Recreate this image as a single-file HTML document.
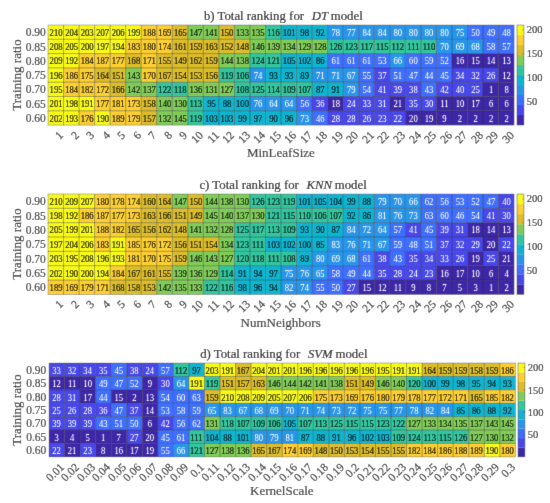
<!DOCTYPE html>
<html><head><meta charset="utf-8"><title>Total ranking heatmaps</title>
<style>
html,body{margin:0;padding:0;background:#fff;}
body{width:550px;height:503px;position:relative;overflow:hidden;-webkit-text-stroke:0.2px currentColor;font-family:"Liberation Serif","Times New Roman",serif;color:#262626;}
.a{position:absolute;white-space:nowrap;}
.hm{position:absolute;}
.c{position:absolute;text-align:center;font-size:8.6px;transform:scaleY(1.1);}
.w{color:#fff;-webkit-text-stroke:0;}
.k{color:#111;}
.yt{position:absolute;font-size:11.5px;color:#383838;text-align:right;width:30px;}
.xt{position:absolute;font-size:11.5px;color:#383838;text-align:right;transform-origin:100% 50%;transform:rotate(-45deg);width:40px;}
.cbt{position:absolute;font-size:10.5px;color:#383838;}
.lab{position:absolute;font-size:13.0px;color:#383838;text-align:center;}
.ttl{position:absolute;font-size:12.8px;color:#262626;text-align:center;}
.ttl i{font-style:italic;}
.cb{position:absolute;box-sizing:border-box;border:0.8px solid rgba(40,40,40,0.5);}
.gl{position:absolute;background:rgba(40,40,40,0.25);}
#wrap{position:absolute;left:0;top:0;width:550px;height:503px;background:#fff;filter:url(#bl);}
</style></head><body><svg width="0" height="0" style="position:absolute"><filter id="bl" x="0" y="0" width="550" height="503" filterUnits="userSpaceOnUse" primitiveUnits="userSpaceOnUse"><feConvolveMatrix order="3" kernelMatrix="0.0052 0.0619 0.0052 0.0619 0.7314 0.0619 0.0052 0.0619 0.0052" edgeMode="duplicate" preserveAlpha="true"/></filter></svg><div id="wrap">

<div class="ttl" style="left:133.3px;top:9.1px;width:300px;line-height:14px;">b) Total ranking for <i style="margin-left:4.4px">DT</i><span style="margin-left:-0.5px"> model</span></div>
<svg class="a" style="left:48.3px;top:24.6px;overflow:visible" width="466.1" height="100.1" viewBox="0 0 466.1 100.1"><rect x="0" y="0" width="15.56" height="14.32" fill="#f9fb15"/><rect x="15.54" y="0" width="15.56" height="14.32" fill="#f9fb15"/><rect x="31.07" y="0" width="15.56" height="14.32" fill="#f9fb15"/><rect x="46.61" y="0" width="15.56" height="14.32" fill="#f9fb15"/><rect x="62.15" y="0" width="15.56" height="14.32" fill="#f9fb15"/><rect x="77.68" y="0" width="15.56" height="14.32" fill="#f9fb15"/><rect x="93.22" y="0" width="15.56" height="14.32" fill="#fccf30"/><rect x="108.76" y="0" width="15.56" height="14.32" fill="#fccf30"/><rect x="124.29" y="0" width="15.56" height="14.32" fill="#dcbd29"/><rect x="139.83" y="0" width="15.56" height="14.32" fill="#81cc59"/><rect x="155.37" y="0" width="15.56" height="14.32" fill="#81cc59"/><rect x="170.9" y="0" width="15.56" height="14.32" fill="#dcbd29"/><rect x="186.44" y="0" width="15.56" height="14.32" fill="#81cc59"/><rect x="201.98" y="0" width="15.56" height="14.32" fill="#81cc59"/><rect x="217.51" y="0" width="15.56" height="14.32" fill="#31c69f"/><rect x="233.05" y="0" width="15.56" height="14.32" fill="#08b5d0"/><rect x="248.59" y="0" width="15.56" height="14.32" fill="#08b5d0"/><rect x="264.12" y="0" width="15.56" height="14.32" fill="#08b5d0"/><rect x="279.66" y="0" width="15.56" height="14.32" fill="#2796eb"/><rect x="295.2" y="0" width="15.56" height="14.32" fill="#2796eb"/><rect x="310.73" y="0" width="15.56" height="14.32" fill="#2796eb"/><rect x="326.27" y="0" width="15.56" height="14.32" fill="#2796eb"/><rect x="341.81" y="0" width="15.56" height="14.32" fill="#2796eb"/><rect x="357.34" y="0" width="15.56" height="14.32" fill="#2796eb"/><rect x="372.88" y="0" width="15.56" height="14.32" fill="#2796eb"/><rect x="388.42" y="0" width="15.56" height="14.32" fill="#2796eb"/><rect x="403.95" y="0" width="15.56" height="14.32" fill="#2796eb"/><rect x="419.49" y="0" width="15.56" height="14.32" fill="#3e6fff"/><rect x="435.03" y="0" width="15.56" height="14.32" fill="#3e6fff"/><rect x="450.56" y="0" width="15.56" height="14.32" fill="#3e6fff"/><rect x="0" y="14.3" width="15.56" height="14.32" fill="#f9fb15"/><rect x="15.54" y="14.3" width="15.56" height="14.32" fill="#f9fb15"/><rect x="31.07" y="14.3" width="15.56" height="14.32" fill="#f9fb15"/><rect x="46.61" y="14.3" width="15.56" height="14.32" fill="#f9fb15"/><rect x="62.15" y="14.3" width="15.56" height="14.32" fill="#f9fb15"/><rect x="77.68" y="14.3" width="15.56" height="14.32" fill="#fccf30"/><rect x="93.22" y="14.3" width="15.56" height="14.32" fill="#fccf30"/><rect x="108.76" y="14.3" width="15.56" height="14.32" fill="#fccf30"/><rect x="124.29" y="14.3" width="15.56" height="14.32" fill="#dcbd29"/><rect x="139.83" y="14.3" width="15.56" height="14.32" fill="#dcbd29"/><rect x="155.37" y="14.3" width="15.56" height="14.32" fill="#dcbd29"/><rect x="170.9" y="14.3" width="15.56" height="14.32" fill="#dcbd29"/><rect x="186.44" y="14.3" width="15.56" height="14.32" fill="#dcbd29"/><rect x="201.98" y="14.3" width="15.56" height="14.32" fill="#81cc59"/><rect x="217.51" y="14.3" width="15.56" height="14.32" fill="#81cc59"/><rect x="233.05" y="14.3" width="15.56" height="14.32" fill="#81cc59"/><rect x="248.59" y="14.3" width="15.56" height="14.32" fill="#81cc59"/><rect x="264.12" y="14.3" width="15.56" height="14.32" fill="#81cc59"/><rect x="279.66" y="14.3" width="15.56" height="14.32" fill="#31c69f"/><rect x="295.2" y="14.3" width="15.56" height="14.32" fill="#31c69f"/><rect x="310.73" y="14.3" width="15.56" height="14.32" fill="#31c69f"/><rect x="326.27" y="14.3" width="15.56" height="14.32" fill="#31c69f"/><rect x="341.81" y="14.3" width="15.56" height="14.32" fill="#31c69f"/><rect x="357.34" y="14.3" width="15.56" height="14.32" fill="#31c69f"/><rect x="372.88" y="14.3" width="15.56" height="14.32" fill="#31c69f"/><rect x="388.42" y="14.3" width="15.56" height="14.32" fill="#2796eb"/><rect x="403.95" y="14.3" width="15.56" height="14.32" fill="#2796eb"/><rect x="419.49" y="14.3" width="15.56" height="14.32" fill="#2796eb"/><rect x="435.03" y="14.3" width="15.56" height="14.32" fill="#3e6fff"/><rect x="450.56" y="14.3" width="15.56" height="14.32" fill="#3e6fff"/><rect x="0" y="28.6" width="15.56" height="14.32" fill="#f9fb15"/><rect x="15.54" y="28.6" width="15.56" height="14.32" fill="#f9fb15"/><rect x="31.07" y="28.6" width="15.56" height="14.32" fill="#fccf30"/><rect x="46.61" y="28.6" width="15.56" height="14.32" fill="#fccf30"/><rect x="62.15" y="28.6" width="15.56" height="14.32" fill="#fccf30"/><rect x="77.68" y="28.6" width="15.56" height="14.32" fill="#dcbd29"/><rect x="93.22" y="28.6" width="15.56" height="14.32" fill="#fccf30"/><rect x="108.76" y="28.6" width="15.56" height="14.32" fill="#dcbd29"/><rect x="124.29" y="28.6" width="15.56" height="14.32" fill="#dcbd29"/><rect x="139.83" y="28.6" width="15.56" height="14.32" fill="#dcbd29"/><rect x="155.37" y="28.6" width="15.56" height="14.32" fill="#dcbd29"/><rect x="170.9" y="28.6" width="15.56" height="14.32" fill="#81cc59"/><rect x="186.44" y="28.6" width="15.56" height="14.32" fill="#81cc59"/><rect x="201.98" y="28.6" width="15.56" height="14.32" fill="#31c69f"/><rect x="217.51" y="28.6" width="15.56" height="14.32" fill="#31c69f"/><rect x="233.05" y="28.6" width="15.56" height="14.32" fill="#08b5d0"/><rect x="248.59" y="28.6" width="15.56" height="14.32" fill="#08b5d0"/><rect x="264.12" y="28.6" width="15.56" height="14.32" fill="#08b5d0"/><rect x="279.66" y="28.6" width="15.56" height="14.32" fill="#3e6fff"/><rect x="295.2" y="28.6" width="15.56" height="14.32" fill="#3e6fff"/><rect x="310.73" y="28.6" width="15.56" height="14.32" fill="#3e6fff"/><rect x="326.27" y="28.6" width="15.56" height="14.32" fill="#3e6fff"/><rect x="341.81" y="28.6" width="15.56" height="14.32" fill="#2796eb"/><rect x="357.34" y="28.6" width="15.56" height="14.32" fill="#3e6fff"/><rect x="372.88" y="28.6" width="15.56" height="14.32" fill="#3e6fff"/><rect x="388.42" y="28.6" width="15.56" height="14.32" fill="#3e6fff"/><rect x="403.95" y="28.6" width="15.56" height="14.32" fill="#3e26a8"/><rect x="419.49" y="28.6" width="15.56" height="14.32" fill="#3e26a8"/><rect x="435.03" y="28.6" width="15.56" height="14.32" fill="#3e26a8"/><rect x="450.56" y="28.6" width="15.56" height="14.32" fill="#3e26a8"/><rect x="0" y="42.9" width="15.56" height="14.32" fill="#f9fb15"/><rect x="15.54" y="42.9" width="15.56" height="14.32" fill="#fccf30"/><rect x="31.07" y="42.9" width="15.56" height="14.32" fill="#fccf30"/><rect x="46.61" y="42.9" width="15.56" height="14.32" fill="#dcbd29"/><rect x="62.15" y="42.9" width="15.56" height="14.32" fill="#dcbd29"/><rect x="77.68" y="42.9" width="15.56" height="14.32" fill="#81cc59"/><rect x="93.22" y="42.9" width="15.56" height="14.32" fill="#fccf30"/><rect x="108.76" y="42.9" width="15.56" height="14.32" fill="#dcbd29"/><rect x="124.29" y="42.9" width="15.56" height="14.32" fill="#dcbd29"/><rect x="139.83" y="42.9" width="15.56" height="14.32" fill="#dcbd29"/><rect x="155.37" y="42.9" width="15.56" height="14.32" fill="#dcbd29"/><rect x="170.9" y="42.9" width="15.56" height="14.32" fill="#31c69f"/><rect x="186.44" y="42.9" width="15.56" height="14.32" fill="#31c69f"/><rect x="201.98" y="42.9" width="15.56" height="14.32" fill="#2796eb"/><rect x="217.51" y="42.9" width="15.56" height="14.32" fill="#08b5d0"/><rect x="233.05" y="42.9" width="15.56" height="14.32" fill="#08b5d0"/><rect x="248.59" y="42.9" width="15.56" height="14.32" fill="#08b5d0"/><rect x="264.12" y="42.9" width="15.56" height="14.32" fill="#2796eb"/><rect x="279.66" y="42.9" width="15.56" height="14.32" fill="#2796eb"/><rect x="295.2" y="42.9" width="15.56" height="14.32" fill="#2796eb"/><rect x="310.73" y="42.9" width="15.56" height="14.32" fill="#3e6fff"/><rect x="326.27" y="42.9" width="15.56" height="14.32" fill="#4747eb"/><rect x="341.81" y="42.9" width="15.56" height="14.32" fill="#3e6fff"/><rect x="357.34" y="42.9" width="15.56" height="14.32" fill="#3e6fff"/><rect x="372.88" y="42.9" width="15.56" height="14.32" fill="#3e6fff"/><rect x="388.42" y="42.9" width="15.56" height="14.32" fill="#3e6fff"/><rect x="403.95" y="42.9" width="15.56" height="14.32" fill="#4747eb"/><rect x="419.49" y="42.9" width="15.56" height="14.32" fill="#4747eb"/><rect x="435.03" y="42.9" width="15.56" height="14.32" fill="#4747eb"/><rect x="450.56" y="42.9" width="15.56" height="14.32" fill="#3e26a8"/><rect x="0" y="57.2" width="15.56" height="14.32" fill="#f9fb15"/><rect x="15.54" y="57.2" width="15.56" height="14.32" fill="#fccf30"/><rect x="31.07" y="57.2" width="15.56" height="14.32" fill="#fccf30"/><rect x="46.61" y="57.2" width="15.56" height="14.32" fill="#fccf30"/><rect x="62.15" y="57.2" width="15.56" height="14.32" fill="#dcbd29"/><rect x="77.68" y="57.2" width="15.56" height="14.32" fill="#81cc59"/><rect x="93.22" y="57.2" width="15.56" height="14.32" fill="#81cc59"/><rect x="108.76" y="57.2" width="15.56" height="14.32" fill="#31c69f"/><rect x="124.29" y="57.2" width="15.56" height="14.32" fill="#31c69f"/><rect x="139.83" y="57.2" width="15.56" height="14.32" fill="#81cc59"/><rect x="155.37" y="57.2" width="15.56" height="14.32" fill="#81cc59"/><rect x="170.9" y="57.2" width="15.56" height="14.32" fill="#81cc59"/><rect x="186.44" y="57.2" width="15.56" height="14.32" fill="#31c69f"/><rect x="201.98" y="57.2" width="15.56" height="14.32" fill="#31c69f"/><rect x="217.51" y="57.2" width="15.56" height="14.32" fill="#31c69f"/><rect x="233.05" y="57.2" width="15.56" height="14.32" fill="#31c69f"/><rect x="248.59" y="57.2" width="15.56" height="14.32" fill="#31c69f"/><rect x="264.12" y="57.2" width="15.56" height="14.32" fill="#08b5d0"/><rect x="279.66" y="57.2" width="15.56" height="14.32" fill="#08b5d0"/><rect x="295.2" y="57.2" width="15.56" height="14.32" fill="#2796eb"/><rect x="310.73" y="57.2" width="15.56" height="14.32" fill="#3e6fff"/><rect x="326.27" y="57.2" width="15.56" height="14.32" fill="#4747eb"/><rect x="341.81" y="57.2" width="15.56" height="14.32" fill="#4747eb"/><rect x="357.34" y="57.2" width="15.56" height="14.32" fill="#4747eb"/><rect x="372.88" y="57.2" width="15.56" height="14.32" fill="#3e6fff"/><rect x="388.42" y="57.2" width="15.56" height="14.32" fill="#4747eb"/><rect x="403.95" y="57.2" width="15.56" height="14.32" fill="#4747eb"/><rect x="419.49" y="57.2" width="15.56" height="14.32" fill="#4747eb"/><rect x="435.03" y="57.2" width="15.56" height="14.32" fill="#3e26a8"/><rect x="450.56" y="57.2" width="15.56" height="14.32" fill="#3e26a8"/><rect x="0" y="71.5" width="15.56" height="14.32" fill="#f9fb15"/><rect x="15.54" y="71.5" width="15.56" height="14.32" fill="#f9fb15"/><rect x="31.07" y="71.5" width="15.56" height="14.32" fill="#f9fb15"/><rect x="46.61" y="71.5" width="15.56" height="14.32" fill="#fccf30"/><rect x="62.15" y="71.5" width="15.56" height="14.32" fill="#fccf30"/><rect x="77.68" y="71.5" width="15.56" height="14.32" fill="#fccf30"/><rect x="93.22" y="71.5" width="15.56" height="14.32" fill="#dcbd29"/><rect x="108.76" y="71.5" width="15.56" height="14.32" fill="#81cc59"/><rect x="124.29" y="71.5" width="15.56" height="14.32" fill="#81cc59"/><rect x="139.83" y="71.5" width="15.56" height="14.32" fill="#31c69f"/><rect x="155.37" y="71.5" width="15.56" height="14.32" fill="#08b5d0"/><rect x="170.9" y="71.5" width="15.56" height="14.32" fill="#08b5d0"/><rect x="186.44" y="71.5" width="15.56" height="14.32" fill="#08b5d0"/><rect x="201.98" y="71.5" width="15.56" height="14.32" fill="#2796eb"/><rect x="217.51" y="71.5" width="15.56" height="14.32" fill="#2796eb"/><rect x="233.05" y="71.5" width="15.56" height="14.32" fill="#2796eb"/><rect x="248.59" y="71.5" width="15.56" height="14.32" fill="#3e6fff"/><rect x="264.12" y="71.5" width="15.56" height="14.32" fill="#4747eb"/><rect x="279.66" y="71.5" width="15.56" height="14.32" fill="#3e26a8"/><rect x="295.2" y="71.5" width="15.56" height="14.32" fill="#4747eb"/><rect x="310.73" y="71.5" width="15.56" height="14.32" fill="#4747eb"/><rect x="326.27" y="71.5" width="15.56" height="14.32" fill="#4747eb"/><rect x="341.81" y="71.5" width="15.56" height="14.32" fill="#3e26a8"/><rect x="357.34" y="71.5" width="15.56" height="14.32" fill="#4747eb"/><rect x="372.88" y="71.5" width="15.56" height="14.32" fill="#4747eb"/><rect x="388.42" y="71.5" width="15.56" height="14.32" fill="#3e26a8"/><rect x="403.95" y="71.5" width="15.56" height="14.32" fill="#3e26a8"/><rect x="419.49" y="71.5" width="15.56" height="14.32" fill="#3e26a8"/><rect x="435.03" y="71.5" width="15.56" height="14.32" fill="#3e26a8"/><rect x="450.56" y="71.5" width="15.56" height="14.32" fill="#3e26a8"/><rect x="0" y="85.8" width="15.56" height="14.32" fill="#f9fb15"/><rect x="15.54" y="85.8" width="15.56" height="14.32" fill="#f9fb15"/><rect x="31.07" y="85.8" width="15.56" height="14.32" fill="#fccf30"/><rect x="46.61" y="85.8" width="15.56" height="14.32" fill="#f9fb15"/><rect x="62.15" y="85.8" width="15.56" height="14.32" fill="#fccf30"/><rect x="77.68" y="85.8" width="15.56" height="14.32" fill="#fccf30"/><rect x="93.22" y="85.8" width="15.56" height="14.32" fill="#dcbd29"/><rect x="108.76" y="85.8" width="15.56" height="14.32" fill="#81cc59"/><rect x="124.29" y="85.8" width="15.56" height="14.32" fill="#81cc59"/><rect x="139.83" y="85.8" width="15.56" height="14.32" fill="#31c69f"/><rect x="155.37" y="85.8" width="15.56" height="14.32" fill="#08b5d0"/><rect x="170.9" y="85.8" width="15.56" height="14.32" fill="#08b5d0"/><rect x="186.44" y="85.8" width="15.56" height="14.32" fill="#08b5d0"/><rect x="201.98" y="85.8" width="15.56" height="14.32" fill="#08b5d0"/><rect x="217.51" y="85.8" width="15.56" height="14.32" fill="#08b5d0"/><rect x="233.05" y="85.8" width="15.56" height="14.32" fill="#08b5d0"/><rect x="248.59" y="85.8" width="15.56" height="14.32" fill="#2796eb"/><rect x="264.12" y="85.8" width="15.56" height="14.32" fill="#3e6fff"/><rect x="279.66" y="85.8" width="15.56" height="14.32" fill="#4747eb"/><rect x="295.2" y="85.8" width="15.56" height="14.32" fill="#4747eb"/><rect x="310.73" y="85.8" width="15.56" height="14.32" fill="#4747eb"/><rect x="326.27" y="85.8" width="15.56" height="14.32" fill="#4747eb"/><rect x="341.81" y="85.8" width="15.56" height="14.32" fill="#4747eb"/><rect x="357.34" y="85.8" width="15.56" height="14.32" fill="#3e26a8"/><rect x="372.88" y="85.8" width="15.56" height="14.32" fill="#3e26a8"/><rect x="388.42" y="85.8" width="15.56" height="14.32" fill="#3e26a8"/><rect x="403.95" y="85.8" width="15.56" height="14.32" fill="#3e26a8"/><rect x="419.49" y="85.8" width="15.56" height="14.32" fill="#3e26a8"/><rect x="435.03" y="85.8" width="15.56" height="14.32" fill="#3e26a8"/><rect x="450.56" y="85.8" width="15.56" height="14.32" fill="#3e26a8"/><path d="M15.54 0V100.1M31.07 0V100.1M46.61 0V100.1M62.15 0V100.1M77.68 0V100.1M93.22 0V100.1M108.76 0V100.1M124.29 0V100.1M139.83 0V100.1M155.37 0V100.1M170.9 0V100.1M186.44 0V100.1M201.98 0V100.1M217.51 0V100.1M233.05 0V100.1M248.59 0V100.1M264.12 0V100.1M279.66 0V100.1M295.2 0V100.1M310.73 0V100.1M326.27 0V100.1M341.81 0V100.1M357.34 0V100.1M372.88 0V100.1M388.42 0V100.1M403.95 0V100.1M419.49 0V100.1M435.03 0V100.1M450.56 0V100.1M0 14.3H466.1M0 28.6H466.1M0 42.9H466.1M0 57.2H466.1M0 71.5H466.1M0 85.8H466.1" stroke="rgba(40,40,40,0.5)" stroke-width="0.8" fill="none"/><rect x="0" y="0" width="466.1" height="100.1" stroke="rgba(40,40,40,0.45)" stroke-width="0.7" fill="none"/></svg>
<div class="hm" style="left:48.3px;top:24.6px;width:466.1px;height:100.1px;">
<div class="c k" style="left:0px;top:1.2px;width:15.54px;line-height:15.3px">210</div>
<div class="c k" style="left:15.54px;top:1.2px;width:15.54px;line-height:15.3px">204</div>
<div class="c k" style="left:31.07px;top:1.2px;width:15.54px;line-height:15.3px">203</div>
<div class="c k" style="left:46.61px;top:1.2px;width:15.54px;line-height:15.3px">207</div>
<div class="c k" style="left:62.15px;top:1.2px;width:15.54px;line-height:15.3px">206</div>
<div class="c k" style="left:77.68px;top:1.2px;width:15.54px;line-height:15.3px">199</div>
<div class="c k" style="left:93.22px;top:1.2px;width:15.54px;line-height:15.3px">188</div>
<div class="c k" style="left:108.76px;top:1.2px;width:15.54px;line-height:15.3px">169</div>
<div class="c k" style="left:124.29px;top:1.2px;width:15.54px;line-height:15.3px">165</div>
<div class="c k" style="left:139.83px;top:1.2px;width:15.54px;line-height:15.3px">147</div>
<div class="c k" style="left:155.37px;top:1.2px;width:15.54px;line-height:15.3px">141</div>
<div class="c k" style="left:170.9px;top:1.2px;width:15.54px;line-height:15.3px">150</div>
<div class="c k" style="left:186.44px;top:1.2px;width:15.54px;line-height:15.3px">133</div>
<div class="c k" style="left:201.98px;top:1.2px;width:15.54px;line-height:15.3px">135</div>
<div class="c k" style="left:217.51px;top:1.2px;width:15.54px;line-height:15.3px">116</div>
<div class="c k" style="left:233.05px;top:1.2px;width:15.54px;line-height:15.3px">101</div>
<div class="c k" style="left:248.59px;top:1.2px;width:15.54px;line-height:15.3px">98</div>
<div class="c k" style="left:264.12px;top:1.2px;width:15.54px;line-height:15.3px">92</div>
<div class="c w" style="left:279.66px;top:1.2px;width:15.54px;line-height:15.3px">78</div>
<div class="c w" style="left:295.2px;top:1.2px;width:15.54px;line-height:15.3px">77</div>
<div class="c w" style="left:310.73px;top:1.2px;width:15.54px;line-height:15.3px">84</div>
<div class="c w" style="left:326.27px;top:1.2px;width:15.54px;line-height:15.3px">84</div>
<div class="c w" style="left:341.81px;top:1.2px;width:15.54px;line-height:15.3px">80</div>
<div class="c w" style="left:357.34px;top:1.2px;width:15.54px;line-height:15.3px">80</div>
<div class="c w" style="left:372.88px;top:1.2px;width:15.54px;line-height:15.3px">80</div>
<div class="c w" style="left:388.42px;top:1.2px;width:15.54px;line-height:15.3px">80</div>
<div class="c w" style="left:403.95px;top:1.2px;width:15.54px;line-height:15.3px">75</div>
<div class="c w" style="left:419.49px;top:1.2px;width:15.54px;line-height:15.3px">50</div>
<div class="c w" style="left:435.03px;top:1.2px;width:15.54px;line-height:15.3px">49</div>
<div class="c w" style="left:450.56px;top:1.2px;width:15.54px;line-height:15.3px">48</div>
<div class="c k" style="left:0px;top:15.5px;width:15.54px;line-height:15.3px">208</div>
<div class="c k" style="left:15.54px;top:15.5px;width:15.54px;line-height:15.3px">205</div>
<div class="c k" style="left:31.07px;top:15.5px;width:15.54px;line-height:15.3px">200</div>
<div class="c k" style="left:46.61px;top:15.5px;width:15.54px;line-height:15.3px">197</div>
<div class="c k" style="left:62.15px;top:15.5px;width:15.54px;line-height:15.3px">194</div>
<div class="c k" style="left:77.68px;top:15.5px;width:15.54px;line-height:15.3px">183</div>
<div class="c k" style="left:93.22px;top:15.5px;width:15.54px;line-height:15.3px">180</div>
<div class="c k" style="left:108.76px;top:15.5px;width:15.54px;line-height:15.3px">174</div>
<div class="c k" style="left:124.29px;top:15.5px;width:15.54px;line-height:15.3px">161</div>
<div class="c k" style="left:139.83px;top:15.5px;width:15.54px;line-height:15.3px">159</div>
<div class="c k" style="left:155.37px;top:15.5px;width:15.54px;line-height:15.3px">163</div>
<div class="c k" style="left:170.9px;top:15.5px;width:15.54px;line-height:15.3px">152</div>
<div class="c k" style="left:186.44px;top:15.5px;width:15.54px;line-height:15.3px">148</div>
<div class="c k" style="left:201.98px;top:15.5px;width:15.54px;line-height:15.3px">146</div>
<div class="c k" style="left:217.51px;top:15.5px;width:15.54px;line-height:15.3px">139</div>
<div class="c k" style="left:233.05px;top:15.5px;width:15.54px;line-height:15.3px">134</div>
<div class="c k" style="left:248.59px;top:15.5px;width:15.54px;line-height:15.3px">129</div>
<div class="c k" style="left:264.12px;top:15.5px;width:15.54px;line-height:15.3px">128</div>
<div class="c k" style="left:279.66px;top:15.5px;width:15.54px;line-height:15.3px">126</div>
<div class="c k" style="left:295.2px;top:15.5px;width:15.54px;line-height:15.3px">123</div>
<div class="c k" style="left:310.73px;top:15.5px;width:15.54px;line-height:15.3px">117</div>
<div class="c k" style="left:326.27px;top:15.5px;width:15.54px;line-height:15.3px">115</div>
<div class="c k" style="left:341.81px;top:15.5px;width:15.54px;line-height:15.3px">112</div>
<div class="c k" style="left:357.34px;top:15.5px;width:15.54px;line-height:15.3px">111</div>
<div class="c k" style="left:372.88px;top:15.5px;width:15.54px;line-height:15.3px">110</div>
<div class="c w" style="left:388.42px;top:15.5px;width:15.54px;line-height:15.3px">70</div>
<div class="c w" style="left:403.95px;top:15.5px;width:15.54px;line-height:15.3px">69</div>
<div class="c w" style="left:419.49px;top:15.5px;width:15.54px;line-height:15.3px">68</div>
<div class="c w" style="left:435.03px;top:15.5px;width:15.54px;line-height:15.3px">58</div>
<div class="c w" style="left:450.56px;top:15.5px;width:15.54px;line-height:15.3px">57</div>
<div class="c k" style="left:0px;top:29.8px;width:15.54px;line-height:15.3px">209</div>
<div class="c k" style="left:15.54px;top:29.8px;width:15.54px;line-height:15.3px">192</div>
<div class="c k" style="left:31.07px;top:29.8px;width:15.54px;line-height:15.3px">184</div>
<div class="c k" style="left:46.61px;top:29.8px;width:15.54px;line-height:15.3px">187</div>
<div class="c k" style="left:62.15px;top:29.8px;width:15.54px;line-height:15.3px">177</div>
<div class="c k" style="left:77.68px;top:29.8px;width:15.54px;line-height:15.3px">168</div>
<div class="c k" style="left:93.22px;top:29.8px;width:15.54px;line-height:15.3px">171</div>
<div class="c k" style="left:108.76px;top:29.8px;width:15.54px;line-height:15.3px">155</div>
<div class="c k" style="left:124.29px;top:29.8px;width:15.54px;line-height:15.3px">149</div>
<div class="c k" style="left:139.83px;top:29.8px;width:15.54px;line-height:15.3px">162</div>
<div class="c k" style="left:155.37px;top:29.8px;width:15.54px;line-height:15.3px">159</div>
<div class="c k" style="left:170.9px;top:29.8px;width:15.54px;line-height:15.3px">144</div>
<div class="c k" style="left:186.44px;top:29.8px;width:15.54px;line-height:15.3px">138</div>
<div class="c k" style="left:201.98px;top:29.8px;width:15.54px;line-height:15.3px">124</div>
<div class="c k" style="left:217.51px;top:29.8px;width:15.54px;line-height:15.3px">121</div>
<div class="c k" style="left:233.05px;top:29.8px;width:15.54px;line-height:15.3px">105</div>
<div class="c k" style="left:248.59px;top:29.8px;width:15.54px;line-height:15.3px">102</div>
<div class="c k" style="left:264.12px;top:29.8px;width:15.54px;line-height:15.3px">86</div>
<div class="c w" style="left:279.66px;top:29.8px;width:15.54px;line-height:15.3px">61</div>
<div class="c w" style="left:295.2px;top:29.8px;width:15.54px;line-height:15.3px">61</div>
<div class="c w" style="left:310.73px;top:29.8px;width:15.54px;line-height:15.3px">61</div>
<div class="c w" style="left:326.27px;top:29.8px;width:15.54px;line-height:15.3px">53</div>
<div class="c w" style="left:341.81px;top:29.8px;width:15.54px;line-height:15.3px">66</div>
<div class="c w" style="left:357.34px;top:29.8px;width:15.54px;line-height:15.3px">60</div>
<div class="c w" style="left:372.88px;top:29.8px;width:15.54px;line-height:15.3px">59</div>
<div class="c w" style="left:388.42px;top:29.8px;width:15.54px;line-height:15.3px">52</div>
<div class="c w" style="left:403.95px;top:29.8px;width:15.54px;line-height:15.3px">16</div>
<div class="c w" style="left:419.49px;top:29.8px;width:15.54px;line-height:15.3px">15</div>
<div class="c w" style="left:435.03px;top:29.8px;width:15.54px;line-height:15.3px">14</div>
<div class="c w" style="left:450.56px;top:29.8px;width:15.54px;line-height:15.3px">13</div>
<div class="c k" style="left:0px;top:44.1px;width:15.54px;line-height:15.3px">196</div>
<div class="c k" style="left:15.54px;top:44.1px;width:15.54px;line-height:15.3px">186</div>
<div class="c k" style="left:31.07px;top:44.1px;width:15.54px;line-height:15.3px">175</div>
<div class="c k" style="left:46.61px;top:44.1px;width:15.54px;line-height:15.3px">164</div>
<div class="c k" style="left:62.15px;top:44.1px;width:15.54px;line-height:15.3px">151</div>
<div class="c k" style="left:77.68px;top:44.1px;width:15.54px;line-height:15.3px">143</div>
<div class="c k" style="left:93.22px;top:44.1px;width:15.54px;line-height:15.3px">170</div>
<div class="c k" style="left:108.76px;top:44.1px;width:15.54px;line-height:15.3px">167</div>
<div class="c k" style="left:124.29px;top:44.1px;width:15.54px;line-height:15.3px">154</div>
<div class="c k" style="left:139.83px;top:44.1px;width:15.54px;line-height:15.3px">153</div>
<div class="c k" style="left:155.37px;top:44.1px;width:15.54px;line-height:15.3px">156</div>
<div class="c k" style="left:170.9px;top:44.1px;width:15.54px;line-height:15.3px">119</div>
<div class="c k" style="left:186.44px;top:44.1px;width:15.54px;line-height:15.3px">106</div>
<div class="c w" style="left:201.98px;top:44.1px;width:15.54px;line-height:15.3px">74</div>
<div class="c k" style="left:217.51px;top:44.1px;width:15.54px;line-height:15.3px">93</div>
<div class="c k" style="left:233.05px;top:44.1px;width:15.54px;line-height:15.3px">93</div>
<div class="c k" style="left:248.59px;top:44.1px;width:15.54px;line-height:15.3px">89</div>
<div class="c w" style="left:264.12px;top:44.1px;width:15.54px;line-height:15.3px">71</div>
<div class="c w" style="left:279.66px;top:44.1px;width:15.54px;line-height:15.3px">71</div>
<div class="c w" style="left:295.2px;top:44.1px;width:15.54px;line-height:15.3px">67</div>
<div class="c w" style="left:310.73px;top:44.1px;width:15.54px;line-height:15.3px">55</div>
<div class="c w" style="left:326.27px;top:44.1px;width:15.54px;line-height:15.3px">37</div>
<div class="c w" style="left:341.81px;top:44.1px;width:15.54px;line-height:15.3px">51</div>
<div class="c w" style="left:357.34px;top:44.1px;width:15.54px;line-height:15.3px">47</div>
<div class="c w" style="left:372.88px;top:44.1px;width:15.54px;line-height:15.3px">44</div>
<div class="c w" style="left:388.42px;top:44.1px;width:15.54px;line-height:15.3px">45</div>
<div class="c w" style="left:403.95px;top:44.1px;width:15.54px;line-height:15.3px">34</div>
<div class="c w" style="left:419.49px;top:44.1px;width:15.54px;line-height:15.3px">32</div>
<div class="c w" style="left:435.03px;top:44.1px;width:15.54px;line-height:15.3px">26</div>
<div class="c w" style="left:450.56px;top:44.1px;width:15.54px;line-height:15.3px">12</div>
<div class="c k" style="left:0px;top:58.4px;width:15.54px;line-height:15.3px">195</div>
<div class="c k" style="left:15.54px;top:58.4px;width:15.54px;line-height:15.3px">184</div>
<div class="c k" style="left:31.07px;top:58.4px;width:15.54px;line-height:15.3px">182</div>
<div class="c k" style="left:46.61px;top:58.4px;width:15.54px;line-height:15.3px">172</div>
<div class="c k" style="left:62.15px;top:58.4px;width:15.54px;line-height:15.3px">166</div>
<div class="c k" style="left:77.68px;top:58.4px;width:15.54px;line-height:15.3px">142</div>
<div class="c k" style="left:93.22px;top:58.4px;width:15.54px;line-height:15.3px">137</div>
<div class="c k" style="left:108.76px;top:58.4px;width:15.54px;line-height:15.3px">122</div>
<div class="c k" style="left:124.29px;top:58.4px;width:15.54px;line-height:15.3px">118</div>
<div class="c k" style="left:139.83px;top:58.4px;width:15.54px;line-height:15.3px">136</div>
<div class="c k" style="left:155.37px;top:58.4px;width:15.54px;line-height:15.3px">131</div>
<div class="c k" style="left:170.9px;top:58.4px;width:15.54px;line-height:15.3px">127</div>
<div class="c k" style="left:186.44px;top:58.4px;width:15.54px;line-height:15.3px">108</div>
<div class="c k" style="left:201.98px;top:58.4px;width:15.54px;line-height:15.3px">125</div>
<div class="c k" style="left:217.51px;top:58.4px;width:15.54px;line-height:15.3px">114</div>
<div class="c k" style="left:233.05px;top:58.4px;width:15.54px;line-height:15.3px">109</div>
<div class="c k" style="left:248.59px;top:58.4px;width:15.54px;line-height:15.3px">107</div>
<div class="c k" style="left:264.12px;top:58.4px;width:15.54px;line-height:15.3px">87</div>
<div class="c k" style="left:279.66px;top:58.4px;width:15.54px;line-height:15.3px">91</div>
<div class="c w" style="left:295.2px;top:58.4px;width:15.54px;line-height:15.3px">79</div>
<div class="c w" style="left:310.73px;top:58.4px;width:15.54px;line-height:15.3px">54</div>
<div class="c w" style="left:326.27px;top:58.4px;width:15.54px;line-height:15.3px">41</div>
<div class="c w" style="left:341.81px;top:58.4px;width:15.54px;line-height:15.3px">39</div>
<div class="c w" style="left:357.34px;top:58.4px;width:15.54px;line-height:15.3px">38</div>
<div class="c w" style="left:372.88px;top:58.4px;width:15.54px;line-height:15.3px">43</div>
<div class="c w" style="left:388.42px;top:58.4px;width:15.54px;line-height:15.3px">42</div>
<div class="c w" style="left:403.95px;top:58.4px;width:15.54px;line-height:15.3px">40</div>
<div class="c w" style="left:419.49px;top:58.4px;width:15.54px;line-height:15.3px">25</div>
<div class="c w" style="left:435.03px;top:58.4px;width:15.54px;line-height:15.3px">1</div>
<div class="c w" style="left:450.56px;top:58.4px;width:15.54px;line-height:15.3px">8</div>
<div class="c k" style="left:0px;top:72.7px;width:15.54px;line-height:15.3px">201</div>
<div class="c k" style="left:15.54px;top:72.7px;width:15.54px;line-height:15.3px">198</div>
<div class="c k" style="left:31.07px;top:72.7px;width:15.54px;line-height:15.3px">191</div>
<div class="c k" style="left:46.61px;top:72.7px;width:15.54px;line-height:15.3px">177</div>
<div class="c k" style="left:62.15px;top:72.7px;width:15.54px;line-height:15.3px">181</div>
<div class="c k" style="left:77.68px;top:72.7px;width:15.54px;line-height:15.3px">173</div>
<div class="c k" style="left:93.22px;top:72.7px;width:15.54px;line-height:15.3px">158</div>
<div class="c k" style="left:108.76px;top:72.7px;width:15.54px;line-height:15.3px">140</div>
<div class="c k" style="left:124.29px;top:72.7px;width:15.54px;line-height:15.3px">130</div>
<div class="c k" style="left:139.83px;top:72.7px;width:15.54px;line-height:15.3px">113</div>
<div class="c k" style="left:155.37px;top:72.7px;width:15.54px;line-height:15.3px">95</div>
<div class="c k" style="left:170.9px;top:72.7px;width:15.54px;line-height:15.3px">88</div>
<div class="c k" style="left:186.44px;top:72.7px;width:15.54px;line-height:15.3px">100</div>
<div class="c w" style="left:201.98px;top:72.7px;width:15.54px;line-height:15.3px">76</div>
<div class="c w" style="left:217.51px;top:72.7px;width:15.54px;line-height:15.3px">64</div>
<div class="c w" style="left:233.05px;top:72.7px;width:15.54px;line-height:15.3px">64</div>
<div class="c w" style="left:248.59px;top:72.7px;width:15.54px;line-height:15.3px">56</div>
<div class="c w" style="left:264.12px;top:72.7px;width:15.54px;line-height:15.3px">36</div>
<div class="c w" style="left:279.66px;top:72.7px;width:15.54px;line-height:15.3px">18</div>
<div class="c w" style="left:295.2px;top:72.7px;width:15.54px;line-height:15.3px">24</div>
<div class="c w" style="left:310.73px;top:72.7px;width:15.54px;line-height:15.3px">33</div>
<div class="c w" style="left:326.27px;top:72.7px;width:15.54px;line-height:15.3px">31</div>
<div class="c w" style="left:341.81px;top:72.7px;width:15.54px;line-height:15.3px">21</div>
<div class="c w" style="left:357.34px;top:72.7px;width:15.54px;line-height:15.3px">35</div>
<div class="c w" style="left:372.88px;top:72.7px;width:15.54px;line-height:15.3px">30</div>
<div class="c w" style="left:388.42px;top:72.7px;width:15.54px;line-height:15.3px">11</div>
<div class="c w" style="left:403.95px;top:72.7px;width:15.54px;line-height:15.3px">10</div>
<div class="c w" style="left:419.49px;top:72.7px;width:15.54px;line-height:15.3px">17</div>
<div class="c w" style="left:435.03px;top:72.7px;width:15.54px;line-height:15.3px">6</div>
<div class="c w" style="left:450.56px;top:72.7px;width:15.54px;line-height:15.3px">6</div>
<div class="c k" style="left:0px;top:87px;width:15.54px;line-height:15.3px">202</div>
<div class="c k" style="left:15.54px;top:87px;width:15.54px;line-height:15.3px">193</div>
<div class="c k" style="left:31.07px;top:87px;width:15.54px;line-height:15.3px">176</div>
<div class="c k" style="left:46.61px;top:87px;width:15.54px;line-height:15.3px">190</div>
<div class="c k" style="left:62.15px;top:87px;width:15.54px;line-height:15.3px">189</div>
<div class="c k" style="left:77.68px;top:87px;width:15.54px;line-height:15.3px">179</div>
<div class="c k" style="left:93.22px;top:87px;width:15.54px;line-height:15.3px">157</div>
<div class="c k" style="left:108.76px;top:87px;width:15.54px;line-height:15.3px">132</div>
<div class="c k" style="left:124.29px;top:87px;width:15.54px;line-height:15.3px">145</div>
<div class="c k" style="left:139.83px;top:87px;width:15.54px;line-height:15.3px">119</div>
<div class="c k" style="left:155.37px;top:87px;width:15.54px;line-height:15.3px">103</div>
<div class="c k" style="left:170.9px;top:87px;width:15.54px;line-height:15.3px">103</div>
<div class="c k" style="left:186.44px;top:87px;width:15.54px;line-height:15.3px">99</div>
<div class="c k" style="left:201.98px;top:87px;width:15.54px;line-height:15.3px">97</div>
<div class="c k" style="left:217.51px;top:87px;width:15.54px;line-height:15.3px">90</div>
<div class="c k" style="left:233.05px;top:87px;width:15.54px;line-height:15.3px">96</div>
<div class="c w" style="left:248.59px;top:87px;width:15.54px;line-height:15.3px">73</div>
<div class="c w" style="left:264.12px;top:87px;width:15.54px;line-height:15.3px">46</div>
<div class="c w" style="left:279.66px;top:87px;width:15.54px;line-height:15.3px">28</div>
<div class="c w" style="left:295.2px;top:87px;width:15.54px;line-height:15.3px">28</div>
<div class="c w" style="left:310.73px;top:87px;width:15.54px;line-height:15.3px">26</div>
<div class="c w" style="left:326.27px;top:87px;width:15.54px;line-height:15.3px">23</div>
<div class="c w" style="left:341.81px;top:87px;width:15.54px;line-height:15.3px">22</div>
<div class="c w" style="left:357.34px;top:87px;width:15.54px;line-height:15.3px">20</div>
<div class="c w" style="left:372.88px;top:87px;width:15.54px;line-height:15.3px">19</div>
<div class="c w" style="left:388.42px;top:87px;width:15.54px;line-height:15.3px">9</div>
<div class="c w" style="left:403.95px;top:87px;width:15.54px;line-height:15.3px">2</div>
<div class="c w" style="left:419.49px;top:87px;width:15.54px;line-height:15.3px">2</div>
<div class="c w" style="left:435.03px;top:87px;width:15.54px;line-height:15.3px">2</div>
<div class="c w" style="left:450.56px;top:87px;width:15.54px;line-height:15.3px">2</div>
</div>
<div class="yt" style="left:15.8px;top:26.25px;line-height:12px;">0.90</div>
<div class="yt" style="left:15.8px;top:40.55px;line-height:12px;">0.85</div>
<div class="yt" style="left:15.8px;top:54.85px;line-height:12px;">0.80</div>
<div class="yt" style="left:15.8px;top:69.15px;line-height:12px;">0.75</div>
<div class="yt" style="left:15.8px;top:83.45px;line-height:12px;">0.70</div>
<div class="yt" style="left:15.8px;top:97.75px;line-height:12px;">0.65</div>
<div class="yt" style="left:15.8px;top:112.05px;line-height:12px;">0.60</div>
<div class="lab" style="left:-32.8px;top:67.65px;width:100px;line-height:14px;transform:rotate(-90deg);">Training ratio</div>
<div class="xt" style="left:21.17px;top:126.8px;line-height:12px;">1</div>
<div class="xt" style="left:36.7px;top:126.8px;line-height:12px;">2</div>
<div class="xt" style="left:52.24px;top:126.8px;line-height:12px;">3</div>
<div class="xt" style="left:67.78px;top:126.8px;line-height:12px;">4</div>
<div class="xt" style="left:83.31px;top:126.8px;line-height:12px;">5</div>
<div class="xt" style="left:98.85px;top:126.8px;line-height:12px;">6</div>
<div class="xt" style="left:114.39px;top:126.8px;line-height:12px;">7</div>
<div class="xt" style="left:129.92px;top:126.8px;line-height:12px;">8</div>
<div class="xt" style="left:145.46px;top:126.8px;line-height:12px;">9</div>
<div class="xt" style="left:161px;top:126.8px;line-height:12px;">10</div>
<div class="xt" style="left:176.53px;top:126.8px;line-height:12px;">11</div>
<div class="xt" style="left:192.07px;top:126.8px;line-height:12px;">12</div>
<div class="xt" style="left:207.61px;top:126.8px;line-height:12px;">13</div>
<div class="xt" style="left:223.14px;top:126.8px;line-height:12px;">14</div>
<div class="xt" style="left:238.68px;top:126.8px;line-height:12px;">15</div>
<div class="xt" style="left:254.22px;top:126.8px;line-height:12px;">16</div>
<div class="xt" style="left:269.75px;top:126.8px;line-height:12px;">17</div>
<div class="xt" style="left:285.29px;top:126.8px;line-height:12px;">18</div>
<div class="xt" style="left:300.83px;top:126.8px;line-height:12px;">19</div>
<div class="xt" style="left:316.37px;top:126.8px;line-height:12px;">20</div>
<div class="xt" style="left:331.9px;top:126.8px;line-height:12px;">21</div>
<div class="xt" style="left:347.44px;top:126.8px;line-height:12px;">22</div>
<div class="xt" style="left:362.98px;top:126.8px;line-height:12px;">23</div>
<div class="xt" style="left:378.51px;top:126.8px;line-height:12px;">24</div>
<div class="xt" style="left:394.05px;top:126.8px;line-height:12px;">25</div>
<div class="xt" style="left:409.58px;top:126.8px;line-height:12px;">26</div>
<div class="xt" style="left:425.12px;top:126.8px;line-height:12px;">27</div>
<div class="xt" style="left:440.66px;top:126.8px;line-height:12px;">28</div>
<div class="xt" style="left:456.19px;top:126.8px;line-height:12px;">29</div>
<div class="xt" style="left:471.73px;top:126.8px;line-height:12px;">30</div>
<div class="lab" style="left:180.9px;top:146.3px;width:200px;line-height:14px;">MinLeafSize</div>
<svg class="a" style="left:517.1px;top:24.6px;overflow:visible" width="6.9" height="100.1" viewBox="0 0 6.9 100.1"><rect x="0" y="90.09" width="6.9" height="10.03" fill="#3e26a8"/><rect x="0" y="80.08" width="6.9" height="10.03" fill="#4747eb"/><rect x="0" y="70.07" width="6.9" height="10.03" fill="#3e6fff"/><rect x="0" y="60.06" width="6.9" height="10.03" fill="#2796eb"/><rect x="0" y="50.05" width="6.9" height="10.03" fill="#08b5d0"/><rect x="0" y="40.04" width="6.9" height="10.03" fill="#31c69f"/><rect x="0" y="30.03" width="6.9" height="10.03" fill="#81cc59"/><rect x="0" y="20.02" width="6.9" height="10.03" fill="#dcbd29"/><rect x="0" y="10.01" width="6.9" height="10.03" fill="#fccf30"/><rect x="0" y="0" width="6.9" height="10.03" fill="#f9fb15"/><rect x="0" y="0" width="6.9" height="100.1" stroke="rgba(40,40,40,0.5)" stroke-width="0.8" fill="none"/><path d="M5.4 76.63H6.9M5.4 52.68H6.9M5.4 28.74H6.9M5.4 4.79H6.9" stroke="rgba(40,40,40,0.5)" stroke-width="0.7"/></svg>
<div class="cbt" style="left:526.7px;top:96.23px;line-height:12px;">50</div>
<div class="cbt" style="left:526.7px;top:72.28px;line-height:12px;">100</div>
<div class="cbt" style="left:526.7px;top:48.34px;line-height:12px;">150</div>
<div class="cbt" style="left:526.7px;top:24.39px;line-height:12px;">200</div>
<div class="ttl" style="left:133.1px;top:178.1px;width:300px;line-height:14px;">c) Total ranking for <i style="margin-left:4.4px">KNN</i><span style="margin-left:-0.5px"> model</span></div>
<svg class="a" style="left:48.3px;top:193.6px;overflow:visible" width="466.1" height="100.4" viewBox="0 0 466.1 100.4"><rect x="0" y="0" width="15.56" height="14.36" fill="#f9fb15"/><rect x="15.54" y="0" width="15.56" height="14.36" fill="#f9fb15"/><rect x="31.07" y="0" width="15.56" height="14.36" fill="#f9fb15"/><rect x="46.61" y="0" width="15.56" height="14.36" fill="#fccf30"/><rect x="62.15" y="0" width="15.56" height="14.36" fill="#fccf30"/><rect x="77.68" y="0" width="15.56" height="14.36" fill="#fccf30"/><rect x="93.22" y="0" width="15.56" height="14.36" fill="#dcbd29"/><rect x="108.76" y="0" width="15.56" height="14.36" fill="#dcbd29"/><rect x="124.29" y="0" width="15.56" height="14.36" fill="#81cc59"/><rect x="139.83" y="0" width="15.56" height="14.36" fill="#dcbd29"/><rect x="155.37" y="0" width="15.56" height="14.36" fill="#81cc59"/><rect x="170.9" y="0" width="15.56" height="14.36" fill="#81cc59"/><rect x="186.44" y="0" width="15.56" height="14.36" fill="#81cc59"/><rect x="201.98" y="0" width="15.56" height="14.36" fill="#31c69f"/><rect x="217.51" y="0" width="15.56" height="14.36" fill="#31c69f"/><rect x="233.05" y="0" width="15.56" height="14.36" fill="#31c69f"/><rect x="248.59" y="0" width="15.56" height="14.36" fill="#08b5d0"/><rect x="264.12" y="0" width="15.56" height="14.36" fill="#08b5d0"/><rect x="279.66" y="0" width="15.56" height="14.36" fill="#08b5d0"/><rect x="295.2" y="0" width="15.56" height="14.36" fill="#08b5d0"/><rect x="310.73" y="0" width="15.56" height="14.36" fill="#08b5d0"/><rect x="326.27" y="0" width="15.56" height="14.36" fill="#2796eb"/><rect x="341.81" y="0" width="15.56" height="14.36" fill="#2796eb"/><rect x="357.34" y="0" width="15.56" height="14.36" fill="#2796eb"/><rect x="372.88" y="0" width="15.56" height="14.36" fill="#3e6fff"/><rect x="388.42" y="0" width="15.56" height="14.36" fill="#3e6fff"/><rect x="403.95" y="0" width="15.56" height="14.36" fill="#3e6fff"/><rect x="419.49" y="0" width="15.56" height="14.36" fill="#3e6fff"/><rect x="435.03" y="0" width="15.56" height="14.36" fill="#3e6fff"/><rect x="450.56" y="0" width="15.56" height="14.36" fill="#4747eb"/><rect x="0" y="14.34" width="15.56" height="14.36" fill="#f9fb15"/><rect x="15.54" y="14.34" width="15.56" height="14.36" fill="#f9fb15"/><rect x="31.07" y="14.34" width="15.56" height="14.36" fill="#fccf30"/><rect x="46.61" y="14.34" width="15.56" height="14.36" fill="#fccf30"/><rect x="62.15" y="14.34" width="15.56" height="14.36" fill="#fccf30"/><rect x="77.68" y="14.34" width="15.56" height="14.36" fill="#fccf30"/><rect x="93.22" y="14.34" width="15.56" height="14.36" fill="#dcbd29"/><rect x="108.76" y="14.34" width="15.56" height="14.36" fill="#dcbd29"/><rect x="124.29" y="14.34" width="15.56" height="14.36" fill="#dcbd29"/><rect x="139.83" y="14.34" width="15.56" height="14.36" fill="#dcbd29"/><rect x="155.37" y="14.34" width="15.56" height="14.36" fill="#81cc59"/><rect x="170.9" y="14.34" width="15.56" height="14.36" fill="#81cc59"/><rect x="186.44" y="14.34" width="15.56" height="14.36" fill="#81cc59"/><rect x="201.98" y="14.34" width="15.56" height="14.36" fill="#81cc59"/><rect x="217.51" y="14.34" width="15.56" height="14.36" fill="#31c69f"/><rect x="233.05" y="14.34" width="15.56" height="14.36" fill="#31c69f"/><rect x="248.59" y="14.34" width="15.56" height="14.36" fill="#31c69f"/><rect x="264.12" y="14.34" width="15.56" height="14.36" fill="#31c69f"/><rect x="279.66" y="14.34" width="15.56" height="14.36" fill="#31c69f"/><rect x="295.2" y="14.34" width="15.56" height="14.36" fill="#08b5d0"/><rect x="310.73" y="14.34" width="15.56" height="14.36" fill="#08b5d0"/><rect x="326.27" y="14.34" width="15.56" height="14.36" fill="#2796eb"/><rect x="341.81" y="14.34" width="15.56" height="14.36" fill="#2796eb"/><rect x="357.34" y="14.34" width="15.56" height="14.36" fill="#2796eb"/><rect x="372.88" y="14.34" width="15.56" height="14.36" fill="#3e6fff"/><rect x="388.42" y="14.34" width="15.56" height="14.36" fill="#3e6fff"/><rect x="403.95" y="14.34" width="15.56" height="14.36" fill="#3e6fff"/><rect x="419.49" y="14.34" width="15.56" height="14.36" fill="#3e6fff"/><rect x="435.03" y="14.34" width="15.56" height="14.36" fill="#4747eb"/><rect x="450.56" y="14.34" width="15.56" height="14.36" fill="#4747eb"/><rect x="0" y="28.69" width="15.56" height="14.36" fill="#f9fb15"/><rect x="15.54" y="28.69" width="15.56" height="14.36" fill="#f9fb15"/><rect x="31.07" y="28.69" width="15.56" height="14.36" fill="#f9fb15"/><rect x="46.61" y="28.69" width="15.56" height="14.36" fill="#fccf30"/><rect x="62.15" y="28.69" width="15.56" height="14.36" fill="#fccf30"/><rect x="77.68" y="28.69" width="15.56" height="14.36" fill="#dcbd29"/><rect x="93.22" y="28.69" width="15.56" height="14.36" fill="#dcbd29"/><rect x="108.76" y="28.69" width="15.56" height="14.36" fill="#dcbd29"/><rect x="124.29" y="28.69" width="15.56" height="14.36" fill="#dcbd29"/><rect x="139.83" y="28.69" width="15.56" height="14.36" fill="#81cc59"/><rect x="155.37" y="28.69" width="15.56" height="14.36" fill="#81cc59"/><rect x="170.9" y="28.69" width="15.56" height="14.36" fill="#81cc59"/><rect x="186.44" y="28.69" width="15.56" height="14.36" fill="#31c69f"/><rect x="201.98" y="28.69" width="15.56" height="14.36" fill="#31c69f"/><rect x="217.51" y="28.69" width="15.56" height="14.36" fill="#31c69f"/><rect x="233.05" y="28.69" width="15.56" height="14.36" fill="#31c69f"/><rect x="248.59" y="28.69" width="15.56" height="14.36" fill="#08b5d0"/><rect x="264.12" y="28.69" width="15.56" height="14.36" fill="#08b5d0"/><rect x="279.66" y="28.69" width="15.56" height="14.36" fill="#08b5d0"/><rect x="295.2" y="28.69" width="15.56" height="14.36" fill="#2796eb"/><rect x="310.73" y="28.69" width="15.56" height="14.36" fill="#2796eb"/><rect x="326.27" y="28.69" width="15.56" height="14.36" fill="#2796eb"/><rect x="341.81" y="28.69" width="15.56" height="14.36" fill="#3e6fff"/><rect x="357.34" y="28.69" width="15.56" height="14.36" fill="#4747eb"/><rect x="372.88" y="28.69" width="15.56" height="14.36" fill="#3e6fff"/><rect x="388.42" y="28.69" width="15.56" height="14.36" fill="#4747eb"/><rect x="403.95" y="28.69" width="15.56" height="14.36" fill="#4747eb"/><rect x="419.49" y="28.69" width="15.56" height="14.36" fill="#3e26a8"/><rect x="435.03" y="28.69" width="15.56" height="14.36" fill="#3e26a8"/><rect x="450.56" y="28.69" width="15.56" height="14.36" fill="#3e26a8"/><rect x="0" y="43.03" width="15.56" height="14.36" fill="#f9fb15"/><rect x="15.54" y="43.03" width="15.56" height="14.36" fill="#f9fb15"/><rect x="31.07" y="43.03" width="15.56" height="14.36" fill="#f9fb15"/><rect x="46.61" y="43.03" width="15.56" height="14.36" fill="#fccf30"/><rect x="62.15" y="43.03" width="15.56" height="14.36" fill="#f9fb15"/><rect x="77.68" y="43.03" width="15.56" height="14.36" fill="#fccf30"/><rect x="93.22" y="43.03" width="15.56" height="14.36" fill="#fccf30"/><rect x="108.76" y="43.03" width="15.56" height="14.36" fill="#fccf30"/><rect x="124.29" y="43.03" width="15.56" height="14.36" fill="#dcbd29"/><rect x="139.83" y="43.03" width="15.56" height="14.36" fill="#dcbd29"/><rect x="155.37" y="43.03" width="15.56" height="14.36" fill="#dcbd29"/><rect x="170.9" y="43.03" width="15.56" height="14.36" fill="#81cc59"/><rect x="186.44" y="43.03" width="15.56" height="14.36" fill="#31c69f"/><rect x="201.98" y="43.03" width="15.56" height="14.36" fill="#31c69f"/><rect x="217.51" y="43.03" width="15.56" height="14.36" fill="#08b5d0"/><rect x="233.05" y="43.03" width="15.56" height="14.36" fill="#08b5d0"/><rect x="248.59" y="43.03" width="15.56" height="14.36" fill="#08b5d0"/><rect x="264.12" y="43.03" width="15.56" height="14.36" fill="#08b5d0"/><rect x="279.66" y="43.03" width="15.56" height="14.36" fill="#2796eb"/><rect x="295.2" y="43.03" width="15.56" height="14.36" fill="#2796eb"/><rect x="310.73" y="43.03" width="15.56" height="14.36" fill="#2796eb"/><rect x="326.27" y="43.03" width="15.56" height="14.36" fill="#2796eb"/><rect x="341.81" y="43.03" width="15.56" height="14.36" fill="#3e6fff"/><rect x="357.34" y="43.03" width="15.56" height="14.36" fill="#3e6fff"/><rect x="372.88" y="43.03" width="15.56" height="14.36" fill="#3e6fff"/><rect x="388.42" y="43.03" width="15.56" height="14.36" fill="#4747eb"/><rect x="403.95" y="43.03" width="15.56" height="14.36" fill="#4747eb"/><rect x="419.49" y="43.03" width="15.56" height="14.36" fill="#4747eb"/><rect x="435.03" y="43.03" width="15.56" height="14.36" fill="#3e26a8"/><rect x="450.56" y="43.03" width="15.56" height="14.36" fill="#4747eb"/><rect x="0" y="57.37" width="15.56" height="14.36" fill="#f9fb15"/><rect x="15.54" y="57.37" width="15.56" height="14.36" fill="#f9fb15"/><rect x="31.07" y="57.37" width="15.56" height="14.36" fill="#f9fb15"/><rect x="46.61" y="57.37" width="15.56" height="14.36" fill="#f9fb15"/><rect x="62.15" y="57.37" width="15.56" height="14.36" fill="#f9fb15"/><rect x="77.68" y="57.37" width="15.56" height="14.36" fill="#fccf30"/><rect x="93.22" y="57.37" width="15.56" height="14.36" fill="#fccf30"/><rect x="108.76" y="57.37" width="15.56" height="14.36" fill="#fccf30"/><rect x="124.29" y="57.37" width="15.56" height="14.36" fill="#dcbd29"/><rect x="139.83" y="57.37" width="15.56" height="14.36" fill="#81cc59"/><rect x="155.37" y="57.37" width="15.56" height="14.36" fill="#81cc59"/><rect x="170.9" y="57.37" width="15.56" height="14.36" fill="#81cc59"/><rect x="186.44" y="57.37" width="15.56" height="14.36" fill="#31c69f"/><rect x="201.98" y="57.37" width="15.56" height="14.36" fill="#31c69f"/><rect x="217.51" y="57.37" width="15.56" height="14.36" fill="#31c69f"/><rect x="233.05" y="57.37" width="15.56" height="14.36" fill="#31c69f"/><rect x="248.59" y="57.37" width="15.56" height="14.36" fill="#08b5d0"/><rect x="264.12" y="57.37" width="15.56" height="14.36" fill="#2796eb"/><rect x="279.66" y="57.37" width="15.56" height="14.36" fill="#2796eb"/><rect x="295.2" y="57.37" width="15.56" height="14.36" fill="#2796eb"/><rect x="310.73" y="57.37" width="15.56" height="14.36" fill="#3e6fff"/><rect x="326.27" y="57.37" width="15.56" height="14.36" fill="#4747eb"/><rect x="341.81" y="57.37" width="15.56" height="14.36" fill="#3e6fff"/><rect x="357.34" y="57.37" width="15.56" height="14.36" fill="#4747eb"/><rect x="372.88" y="57.37" width="15.56" height="14.36" fill="#4747eb"/><rect x="388.42" y="57.37" width="15.56" height="14.36" fill="#4747eb"/><rect x="403.95" y="57.37" width="15.56" height="14.36" fill="#4747eb"/><rect x="419.49" y="57.37" width="15.56" height="14.36" fill="#3e26a8"/><rect x="435.03" y="57.37" width="15.56" height="14.36" fill="#4747eb"/><rect x="450.56" y="57.37" width="15.56" height="14.36" fill="#3e26a8"/><rect x="0" y="71.71" width="15.56" height="14.36" fill="#f9fb15"/><rect x="15.54" y="71.71" width="15.56" height="14.36" fill="#f9fb15"/><rect x="31.07" y="71.71" width="15.56" height="14.36" fill="#f9fb15"/><rect x="46.61" y="71.71" width="15.56" height="14.36" fill="#f9fb15"/><rect x="62.15" y="71.71" width="15.56" height="14.36" fill="#fccf30"/><rect x="77.68" y="71.71" width="15.56" height="14.36" fill="#dcbd29"/><rect x="93.22" y="71.71" width="15.56" height="14.36" fill="#dcbd29"/><rect x="108.76" y="71.71" width="15.56" height="14.36" fill="#dcbd29"/><rect x="124.29" y="71.71" width="15.56" height="14.36" fill="#81cc59"/><rect x="139.83" y="71.71" width="15.56" height="14.36" fill="#81cc59"/><rect x="155.37" y="71.71" width="15.56" height="14.36" fill="#81cc59"/><rect x="170.9" y="71.71" width="15.56" height="14.36" fill="#31c69f"/><rect x="186.44" y="71.71" width="15.56" height="14.36" fill="#08b5d0"/><rect x="201.98" y="71.71" width="15.56" height="14.36" fill="#08b5d0"/><rect x="217.51" y="71.71" width="15.56" height="14.36" fill="#08b5d0"/><rect x="233.05" y="71.71" width="15.56" height="14.36" fill="#2796eb"/><rect x="248.59" y="71.71" width="15.56" height="14.36" fill="#2796eb"/><rect x="264.12" y="71.71" width="15.56" height="14.36" fill="#2796eb"/><rect x="279.66" y="71.71" width="15.56" height="14.36" fill="#3e6fff"/><rect x="295.2" y="71.71" width="15.56" height="14.36" fill="#3e6fff"/><rect x="310.73" y="71.71" width="15.56" height="14.36" fill="#3e6fff"/><rect x="326.27" y="71.71" width="15.56" height="14.36" fill="#4747eb"/><rect x="341.81" y="71.71" width="15.56" height="14.36" fill="#4747eb"/><rect x="357.34" y="71.71" width="15.56" height="14.36" fill="#4747eb"/><rect x="372.88" y="71.71" width="15.56" height="14.36" fill="#4747eb"/><rect x="388.42" y="71.71" width="15.56" height="14.36" fill="#3e26a8"/><rect x="403.95" y="71.71" width="15.56" height="14.36" fill="#3e26a8"/><rect x="419.49" y="71.71" width="15.56" height="14.36" fill="#3e26a8"/><rect x="435.03" y="71.71" width="15.56" height="14.36" fill="#3e26a8"/><rect x="450.56" y="71.71" width="15.56" height="14.36" fill="#3e26a8"/><rect x="0" y="86.06" width="15.56" height="14.36" fill="#fccf30"/><rect x="15.54" y="86.06" width="15.56" height="14.36" fill="#fccf30"/><rect x="31.07" y="86.06" width="15.56" height="14.36" fill="#fccf30"/><rect x="46.61" y="86.06" width="15.56" height="14.36" fill="#fccf30"/><rect x="62.15" y="86.06" width="15.56" height="14.36" fill="#dcbd29"/><rect x="77.68" y="86.06" width="15.56" height="14.36" fill="#dcbd29"/><rect x="93.22" y="86.06" width="15.56" height="14.36" fill="#dcbd29"/><rect x="108.76" y="86.06" width="15.56" height="14.36" fill="#81cc59"/><rect x="124.29" y="86.06" width="15.56" height="14.36" fill="#81cc59"/><rect x="139.83" y="86.06" width="15.56" height="14.36" fill="#81cc59"/><rect x="155.37" y="86.06" width="15.56" height="14.36" fill="#31c69f"/><rect x="170.9" y="86.06" width="15.56" height="14.36" fill="#31c69f"/><rect x="186.44" y="86.06" width="15.56" height="14.36" fill="#08b5d0"/><rect x="201.98" y="86.06" width="15.56" height="14.36" fill="#08b5d0"/><rect x="217.51" y="86.06" width="15.56" height="14.36" fill="#08b5d0"/><rect x="233.05" y="86.06" width="15.56" height="14.36" fill="#2796eb"/><rect x="248.59" y="86.06" width="15.56" height="14.36" fill="#2796eb"/><rect x="264.12" y="86.06" width="15.56" height="14.36" fill="#3e6fff"/><rect x="279.66" y="86.06" width="15.56" height="14.36" fill="#3e6fff"/><rect x="295.2" y="86.06" width="15.56" height="14.36" fill="#4747eb"/><rect x="310.73" y="86.06" width="15.56" height="14.36" fill="#3e26a8"/><rect x="326.27" y="86.06" width="15.56" height="14.36" fill="#3e26a8"/><rect x="341.81" y="86.06" width="15.56" height="14.36" fill="#3e26a8"/><rect x="357.34" y="86.06" width="15.56" height="14.36" fill="#3e26a8"/><rect x="372.88" y="86.06" width="15.56" height="14.36" fill="#3e26a8"/><rect x="388.42" y="86.06" width="15.56" height="14.36" fill="#3e26a8"/><rect x="403.95" y="86.06" width="15.56" height="14.36" fill="#3e26a8"/><rect x="419.49" y="86.06" width="15.56" height="14.36" fill="#3e26a8"/><rect x="435.03" y="86.06" width="15.56" height="14.36" fill="#3e26a8"/><rect x="450.56" y="86.06" width="15.56" height="14.36" fill="#3e26a8"/><path d="M15.54 0V100.4M31.07 0V100.4M46.61 0V100.4M62.15 0V100.4M77.68 0V100.4M93.22 0V100.4M108.76 0V100.4M124.29 0V100.4M139.83 0V100.4M155.37 0V100.4M170.9 0V100.4M186.44 0V100.4M201.98 0V100.4M217.51 0V100.4M233.05 0V100.4M248.59 0V100.4M264.12 0V100.4M279.66 0V100.4M295.2 0V100.4M310.73 0V100.4M326.27 0V100.4M341.81 0V100.4M357.34 0V100.4M372.88 0V100.4M388.42 0V100.4M403.95 0V100.4M419.49 0V100.4M435.03 0V100.4M450.56 0V100.4M0 14.34H466.1M0 28.69H466.1M0 43.03H466.1M0 57.37H466.1M0 71.71H466.1M0 86.06H466.1" stroke="rgba(40,40,40,0.5)" stroke-width="0.8" fill="none"/><rect x="0" y="0" width="466.1" height="100.4" stroke="rgba(40,40,40,0.45)" stroke-width="0.7" fill="none"/></svg>
<div class="hm" style="left:48.3px;top:193.6px;width:466.1px;height:100.4px;">
<div class="c k" style="left:0px;top:1.2px;width:15.54px;line-height:15.34px">210</div>
<div class="c k" style="left:15.54px;top:1.2px;width:15.54px;line-height:15.34px">209</div>
<div class="c k" style="left:31.07px;top:1.2px;width:15.54px;line-height:15.34px">207</div>
<div class="c k" style="left:46.61px;top:1.2px;width:15.54px;line-height:15.34px">180</div>
<div class="c k" style="left:62.15px;top:1.2px;width:15.54px;line-height:15.34px">178</div>
<div class="c k" style="left:77.68px;top:1.2px;width:15.54px;line-height:15.34px">174</div>
<div class="c k" style="left:93.22px;top:1.2px;width:15.54px;line-height:15.34px">160</div>
<div class="c k" style="left:108.76px;top:1.2px;width:15.54px;line-height:15.34px">164</div>
<div class="c k" style="left:124.29px;top:1.2px;width:15.54px;line-height:15.34px">147</div>
<div class="c k" style="left:139.83px;top:1.2px;width:15.54px;line-height:15.34px">150</div>
<div class="c k" style="left:155.37px;top:1.2px;width:15.54px;line-height:15.34px">144</div>
<div class="c k" style="left:170.9px;top:1.2px;width:15.54px;line-height:15.34px">138</div>
<div class="c k" style="left:186.44px;top:1.2px;width:15.54px;line-height:15.34px">130</div>
<div class="c k" style="left:201.98px;top:1.2px;width:15.54px;line-height:15.34px">126</div>
<div class="c k" style="left:217.51px;top:1.2px;width:15.54px;line-height:15.34px">123</div>
<div class="c k" style="left:233.05px;top:1.2px;width:15.54px;line-height:15.34px">119</div>
<div class="c k" style="left:248.59px;top:1.2px;width:15.54px;line-height:15.34px">101</div>
<div class="c k" style="left:264.12px;top:1.2px;width:15.54px;line-height:15.34px">105</div>
<div class="c k" style="left:279.66px;top:1.2px;width:15.54px;line-height:15.34px">104</div>
<div class="c k" style="left:295.2px;top:1.2px;width:15.54px;line-height:15.34px">99</div>
<div class="c k" style="left:310.73px;top:1.2px;width:15.54px;line-height:15.34px">88</div>
<div class="c w" style="left:326.27px;top:1.2px;width:15.54px;line-height:15.34px">79</div>
<div class="c w" style="left:341.81px;top:1.2px;width:15.54px;line-height:15.34px">70</div>
<div class="c w" style="left:357.34px;top:1.2px;width:15.54px;line-height:15.34px">66</div>
<div class="c w" style="left:372.88px;top:1.2px;width:15.54px;line-height:15.34px">62</div>
<div class="c w" style="left:388.42px;top:1.2px;width:15.54px;line-height:15.34px">56</div>
<div class="c w" style="left:403.95px;top:1.2px;width:15.54px;line-height:15.34px">53</div>
<div class="c w" style="left:419.49px;top:1.2px;width:15.54px;line-height:15.34px">52</div>
<div class="c w" style="left:435.03px;top:1.2px;width:15.54px;line-height:15.34px">47</div>
<div class="c w" style="left:450.56px;top:1.2px;width:15.54px;line-height:15.34px">40</div>
<div class="c k" style="left:0px;top:15.54px;width:15.54px;line-height:15.34px">198</div>
<div class="c k" style="left:15.54px;top:15.54px;width:15.54px;line-height:15.34px">192</div>
<div class="c k" style="left:31.07px;top:15.54px;width:15.54px;line-height:15.34px">186</div>
<div class="c k" style="left:46.61px;top:15.54px;width:15.54px;line-height:15.34px">187</div>
<div class="c k" style="left:62.15px;top:15.54px;width:15.54px;line-height:15.34px">177</div>
<div class="c k" style="left:77.68px;top:15.54px;width:15.54px;line-height:15.34px">173</div>
<div class="c k" style="left:93.22px;top:15.54px;width:15.54px;line-height:15.34px">163</div>
<div class="c k" style="left:108.76px;top:15.54px;width:15.54px;line-height:15.34px">166</div>
<div class="c k" style="left:124.29px;top:15.54px;width:15.54px;line-height:15.34px">151</div>
<div class="c k" style="left:139.83px;top:15.54px;width:15.54px;line-height:15.34px">149</div>
<div class="c k" style="left:155.37px;top:15.54px;width:15.54px;line-height:15.34px">145</div>
<div class="c k" style="left:170.9px;top:15.54px;width:15.54px;line-height:15.34px">140</div>
<div class="c k" style="left:186.44px;top:15.54px;width:15.54px;line-height:15.34px">137</div>
<div class="c k" style="left:201.98px;top:15.54px;width:15.54px;line-height:15.34px">130</div>
<div class="c k" style="left:217.51px;top:15.54px;width:15.54px;line-height:15.34px">121</div>
<div class="c k" style="left:233.05px;top:15.54px;width:15.54px;line-height:15.34px">115</div>
<div class="c k" style="left:248.59px;top:15.54px;width:15.54px;line-height:15.34px">110</div>
<div class="c k" style="left:264.12px;top:15.54px;width:15.54px;line-height:15.34px">106</div>
<div class="c k" style="left:279.66px;top:15.54px;width:15.54px;line-height:15.34px">107</div>
<div class="c k" style="left:295.2px;top:15.54px;width:15.54px;line-height:15.34px">92</div>
<div class="c k" style="left:310.73px;top:15.54px;width:15.54px;line-height:15.34px">86</div>
<div class="c w" style="left:326.27px;top:15.54px;width:15.54px;line-height:15.34px">81</div>
<div class="c w" style="left:341.81px;top:15.54px;width:15.54px;line-height:15.34px">76</div>
<div class="c w" style="left:357.34px;top:15.54px;width:15.54px;line-height:15.34px">73</div>
<div class="c w" style="left:372.88px;top:15.54px;width:15.54px;line-height:15.34px">63</div>
<div class="c w" style="left:388.42px;top:15.54px;width:15.54px;line-height:15.34px">60</div>
<div class="c w" style="left:403.95px;top:15.54px;width:15.54px;line-height:15.34px">46</div>
<div class="c w" style="left:419.49px;top:15.54px;width:15.54px;line-height:15.34px">54</div>
<div class="c w" style="left:435.03px;top:15.54px;width:15.54px;line-height:15.34px">41</div>
<div class="c w" style="left:450.56px;top:15.54px;width:15.54px;line-height:15.34px">30</div>
<div class="c k" style="left:0px;top:29.89px;width:15.54px;line-height:15.34px">205</div>
<div class="c k" style="left:15.54px;top:29.89px;width:15.54px;line-height:15.34px">199</div>
<div class="c k" style="left:31.07px;top:29.89px;width:15.54px;line-height:15.34px">201</div>
<div class="c k" style="left:46.61px;top:29.89px;width:15.54px;line-height:15.34px">188</div>
<div class="c k" style="left:62.15px;top:29.89px;width:15.54px;line-height:15.34px">182</div>
<div class="c k" style="left:77.68px;top:29.89px;width:15.54px;line-height:15.34px">165</div>
<div class="c k" style="left:93.22px;top:29.89px;width:15.54px;line-height:15.34px">156</div>
<div class="c k" style="left:108.76px;top:29.89px;width:15.54px;line-height:15.34px">162</div>
<div class="c k" style="left:124.29px;top:29.89px;width:15.54px;line-height:15.34px">148</div>
<div class="c k" style="left:139.83px;top:29.89px;width:15.54px;line-height:15.34px">141</div>
<div class="c k" style="left:155.37px;top:29.89px;width:15.54px;line-height:15.34px">132</div>
<div class="c k" style="left:170.9px;top:29.89px;width:15.54px;line-height:15.34px">128</div>
<div class="c k" style="left:186.44px;top:29.89px;width:15.54px;line-height:15.34px">125</div>
<div class="c k" style="left:201.98px;top:29.89px;width:15.54px;line-height:15.34px">117</div>
<div class="c k" style="left:217.51px;top:29.89px;width:15.54px;line-height:15.34px">113</div>
<div class="c k" style="left:233.05px;top:29.89px;width:15.54px;line-height:15.34px">109</div>
<div class="c k" style="left:248.59px;top:29.89px;width:15.54px;line-height:15.34px">93</div>
<div class="c k" style="left:264.12px;top:29.89px;width:15.54px;line-height:15.34px">90</div>
<div class="c k" style="left:279.66px;top:29.89px;width:15.54px;line-height:15.34px">87</div>
<div class="c w" style="left:295.2px;top:29.89px;width:15.54px;line-height:15.34px">84</div>
<div class="c w" style="left:310.73px;top:29.89px;width:15.54px;line-height:15.34px">72</div>
<div class="c w" style="left:326.27px;top:29.89px;width:15.54px;line-height:15.34px">64</div>
<div class="c w" style="left:341.81px;top:29.89px;width:15.54px;line-height:15.34px">57</div>
<div class="c w" style="left:357.34px;top:29.89px;width:15.54px;line-height:15.34px">41</div>
<div class="c w" style="left:372.88px;top:29.89px;width:15.54px;line-height:15.34px">45</div>
<div class="c w" style="left:388.42px;top:29.89px;width:15.54px;line-height:15.34px">39</div>
<div class="c w" style="left:403.95px;top:29.89px;width:15.54px;line-height:15.34px">31</div>
<div class="c w" style="left:419.49px;top:29.89px;width:15.54px;line-height:15.34px">18</div>
<div class="c w" style="left:435.03px;top:29.89px;width:15.54px;line-height:15.34px">14</div>
<div class="c w" style="left:450.56px;top:29.89px;width:15.54px;line-height:15.34px">13</div>
<div class="c k" style="left:0px;top:44.23px;width:15.54px;line-height:15.34px">197</div>
<div class="c k" style="left:15.54px;top:44.23px;width:15.54px;line-height:15.34px">204</div>
<div class="c k" style="left:31.07px;top:44.23px;width:15.54px;line-height:15.34px">206</div>
<div class="c k" style="left:46.61px;top:44.23px;width:15.54px;line-height:15.34px">183</div>
<div class="c k" style="left:62.15px;top:44.23px;width:15.54px;line-height:15.34px">191</div>
<div class="c k" style="left:77.68px;top:44.23px;width:15.54px;line-height:15.34px">185</div>
<div class="c k" style="left:93.22px;top:44.23px;width:15.54px;line-height:15.34px">176</div>
<div class="c k" style="left:108.76px;top:44.23px;width:15.54px;line-height:15.34px">172</div>
<div class="c k" style="left:124.29px;top:44.23px;width:15.54px;line-height:15.34px">156</div>
<div class="c k" style="left:139.83px;top:44.23px;width:15.54px;line-height:15.34px">151</div>
<div class="c k" style="left:155.37px;top:44.23px;width:15.54px;line-height:15.34px">154</div>
<div class="c k" style="left:170.9px;top:44.23px;width:15.54px;line-height:15.34px">134</div>
<div class="c k" style="left:186.44px;top:44.23px;width:15.54px;line-height:15.34px">123</div>
<div class="c k" style="left:201.98px;top:44.23px;width:15.54px;line-height:15.34px">111</div>
<div class="c k" style="left:217.51px;top:44.23px;width:15.54px;line-height:15.34px">103</div>
<div class="c k" style="left:233.05px;top:44.23px;width:15.54px;line-height:15.34px">102</div>
<div class="c k" style="left:248.59px;top:44.23px;width:15.54px;line-height:15.34px">100</div>
<div class="c k" style="left:264.12px;top:44.23px;width:15.54px;line-height:15.34px">85</div>
<div class="c w" style="left:279.66px;top:44.23px;width:15.54px;line-height:15.34px">83</div>
<div class="c w" style="left:295.2px;top:44.23px;width:15.54px;line-height:15.34px">76</div>
<div class="c w" style="left:310.73px;top:44.23px;width:15.54px;line-height:15.34px">71</div>
<div class="c w" style="left:326.27px;top:44.23px;width:15.54px;line-height:15.34px">67</div>
<div class="c w" style="left:341.81px;top:44.23px;width:15.54px;line-height:15.34px">59</div>
<div class="c w" style="left:357.34px;top:44.23px;width:15.54px;line-height:15.34px">48</div>
<div class="c w" style="left:372.88px;top:44.23px;width:15.54px;line-height:15.34px">51</div>
<div class="c w" style="left:388.42px;top:44.23px;width:15.54px;line-height:15.34px">37</div>
<div class="c w" style="left:403.95px;top:44.23px;width:15.54px;line-height:15.34px">32</div>
<div class="c w" style="left:419.49px;top:44.23px;width:15.54px;line-height:15.34px">29</div>
<div class="c w" style="left:435.03px;top:44.23px;width:15.54px;line-height:15.34px">20</div>
<div class="c w" style="left:450.56px;top:44.23px;width:15.54px;line-height:15.34px">22</div>
<div class="c k" style="left:0px;top:58.57px;width:15.54px;line-height:15.34px">203</div>
<div class="c k" style="left:15.54px;top:58.57px;width:15.54px;line-height:15.34px">195</div>
<div class="c k" style="left:31.07px;top:58.57px;width:15.54px;line-height:15.34px">208</div>
<div class="c k" style="left:46.61px;top:58.57px;width:15.54px;line-height:15.34px">196</div>
<div class="c k" style="left:62.15px;top:58.57px;width:15.54px;line-height:15.34px">193</div>
<div class="c k" style="left:77.68px;top:58.57px;width:15.54px;line-height:15.34px">181</div>
<div class="c k" style="left:93.22px;top:58.57px;width:15.54px;line-height:15.34px">170</div>
<div class="c k" style="left:108.76px;top:58.57px;width:15.54px;line-height:15.34px">175</div>
<div class="c k" style="left:124.29px;top:58.57px;width:15.54px;line-height:15.34px">159</div>
<div class="c k" style="left:139.83px;top:58.57px;width:15.54px;line-height:15.34px">146</div>
<div class="c k" style="left:155.37px;top:58.57px;width:15.54px;line-height:15.34px">143</div>
<div class="c k" style="left:170.9px;top:58.57px;width:15.54px;line-height:15.34px">127</div>
<div class="c k" style="left:186.44px;top:58.57px;width:15.54px;line-height:15.34px">120</div>
<div class="c k" style="left:201.98px;top:58.57px;width:15.54px;line-height:15.34px">118</div>
<div class="c k" style="left:217.51px;top:58.57px;width:15.54px;line-height:15.34px">111</div>
<div class="c k" style="left:233.05px;top:58.57px;width:15.54px;line-height:15.34px">108</div>
<div class="c k" style="left:248.59px;top:58.57px;width:15.54px;line-height:15.34px">89</div>
<div class="c w" style="left:264.12px;top:58.57px;width:15.54px;line-height:15.34px">80</div>
<div class="c w" style="left:279.66px;top:58.57px;width:15.54px;line-height:15.34px">69</div>
<div class="c w" style="left:295.2px;top:58.57px;width:15.54px;line-height:15.34px">68</div>
<div class="c w" style="left:310.73px;top:58.57px;width:15.54px;line-height:15.34px">61</div>
<div class="c w" style="left:326.27px;top:58.57px;width:15.54px;line-height:15.34px">38</div>
<div class="c w" style="left:341.81px;top:58.57px;width:15.54px;line-height:15.34px">43</div>
<div class="c w" style="left:357.34px;top:58.57px;width:15.54px;line-height:15.34px">35</div>
<div class="c w" style="left:372.88px;top:58.57px;width:15.54px;line-height:15.34px">34</div>
<div class="c w" style="left:388.42px;top:58.57px;width:15.54px;line-height:15.34px">33</div>
<div class="c w" style="left:403.95px;top:58.57px;width:15.54px;line-height:15.34px">26</div>
<div class="c w" style="left:419.49px;top:58.57px;width:15.54px;line-height:15.34px">19</div>
<div class="c w" style="left:435.03px;top:58.57px;width:15.54px;line-height:15.34px">25</div>
<div class="c w" style="left:450.56px;top:58.57px;width:15.54px;line-height:15.34px">21</div>
<div class="c k" style="left:0px;top:72.91px;width:15.54px;line-height:15.34px">202</div>
<div class="c k" style="left:15.54px;top:72.91px;width:15.54px;line-height:15.34px">190</div>
<div class="c k" style="left:31.07px;top:72.91px;width:15.54px;line-height:15.34px">200</div>
<div class="c k" style="left:46.61px;top:72.91px;width:15.54px;line-height:15.34px">194</div>
<div class="c k" style="left:62.15px;top:72.91px;width:15.54px;line-height:15.34px">184</div>
<div class="c k" style="left:77.68px;top:72.91px;width:15.54px;line-height:15.34px">167</div>
<div class="c k" style="left:93.22px;top:72.91px;width:15.54px;line-height:15.34px">161</div>
<div class="c k" style="left:108.76px;top:72.91px;width:15.54px;line-height:15.34px">155</div>
<div class="c k" style="left:124.29px;top:72.91px;width:15.54px;line-height:15.34px">139</div>
<div class="c k" style="left:139.83px;top:72.91px;width:15.54px;line-height:15.34px">136</div>
<div class="c k" style="left:155.37px;top:72.91px;width:15.54px;line-height:15.34px">129</div>
<div class="c k" style="left:170.9px;top:72.91px;width:15.54px;line-height:15.34px">114</div>
<div class="c k" style="left:186.44px;top:72.91px;width:15.54px;line-height:15.34px">91</div>
<div class="c k" style="left:201.98px;top:72.91px;width:15.54px;line-height:15.34px">94</div>
<div class="c k" style="left:217.51px;top:72.91px;width:15.54px;line-height:15.34px">97</div>
<div class="c w" style="left:233.05px;top:72.91px;width:15.54px;line-height:15.34px">75</div>
<div class="c w" style="left:248.59px;top:72.91px;width:15.54px;line-height:15.34px">76</div>
<div class="c w" style="left:264.12px;top:72.91px;width:15.54px;line-height:15.34px">65</div>
<div class="c w" style="left:279.66px;top:72.91px;width:15.54px;line-height:15.34px">58</div>
<div class="c w" style="left:295.2px;top:72.91px;width:15.54px;line-height:15.34px">49</div>
<div class="c w" style="left:310.73px;top:72.91px;width:15.54px;line-height:15.34px">44</div>
<div class="c w" style="left:326.27px;top:72.91px;width:15.54px;line-height:15.34px">35</div>
<div class="c w" style="left:341.81px;top:72.91px;width:15.54px;line-height:15.34px">28</div>
<div class="c w" style="left:357.34px;top:72.91px;width:15.54px;line-height:15.34px">24</div>
<div class="c w" style="left:372.88px;top:72.91px;width:15.54px;line-height:15.34px">23</div>
<div class="c w" style="left:388.42px;top:72.91px;width:15.54px;line-height:15.34px">16</div>
<div class="c w" style="left:403.95px;top:72.91px;width:15.54px;line-height:15.34px">17</div>
<div class="c w" style="left:419.49px;top:72.91px;width:15.54px;line-height:15.34px">10</div>
<div class="c w" style="left:435.03px;top:72.91px;width:15.54px;line-height:15.34px">6</div>
<div class="c w" style="left:450.56px;top:72.91px;width:15.54px;line-height:15.34px">4</div>
<div class="c k" style="left:0px;top:87.26px;width:15.54px;line-height:15.34px">189</div>
<div class="c k" style="left:15.54px;top:87.26px;width:15.54px;line-height:15.34px">169</div>
<div class="c k" style="left:31.07px;top:87.26px;width:15.54px;line-height:15.34px">179</div>
<div class="c k" style="left:46.61px;top:87.26px;width:15.54px;line-height:15.34px">171</div>
<div class="c k" style="left:62.15px;top:87.26px;width:15.54px;line-height:15.34px">168</div>
<div class="c k" style="left:77.68px;top:87.26px;width:15.54px;line-height:15.34px">158</div>
<div class="c k" style="left:93.22px;top:87.26px;width:15.54px;line-height:15.34px">153</div>
<div class="c k" style="left:108.76px;top:87.26px;width:15.54px;line-height:15.34px">142</div>
<div class="c k" style="left:124.29px;top:87.26px;width:15.54px;line-height:15.34px">135</div>
<div class="c k" style="left:139.83px;top:87.26px;width:15.54px;line-height:15.34px">133</div>
<div class="c k" style="left:155.37px;top:87.26px;width:15.54px;line-height:15.34px">122</div>
<div class="c k" style="left:170.9px;top:87.26px;width:15.54px;line-height:15.34px">116</div>
<div class="c k" style="left:186.44px;top:87.26px;width:15.54px;line-height:15.34px">98</div>
<div class="c k" style="left:201.98px;top:87.26px;width:15.54px;line-height:15.34px">96</div>
<div class="c k" style="left:217.51px;top:87.26px;width:15.54px;line-height:15.34px">94</div>
<div class="c w" style="left:233.05px;top:87.26px;width:15.54px;line-height:15.34px">82</div>
<div class="c w" style="left:248.59px;top:87.26px;width:15.54px;line-height:15.34px">74</div>
<div class="c w" style="left:264.12px;top:87.26px;width:15.54px;line-height:15.34px">55</div>
<div class="c w" style="left:279.66px;top:87.26px;width:15.54px;line-height:15.34px">50</div>
<div class="c w" style="left:295.2px;top:87.26px;width:15.54px;line-height:15.34px">27</div>
<div class="c w" style="left:310.73px;top:87.26px;width:15.54px;line-height:15.34px">15</div>
<div class="c w" style="left:326.27px;top:87.26px;width:15.54px;line-height:15.34px">12</div>
<div class="c w" style="left:341.81px;top:87.26px;width:15.54px;line-height:15.34px">11</div>
<div class="c w" style="left:357.34px;top:87.26px;width:15.54px;line-height:15.34px">9</div>
<div class="c w" style="left:372.88px;top:87.26px;width:15.54px;line-height:15.34px">8</div>
<div class="c w" style="left:388.42px;top:87.26px;width:15.54px;line-height:15.34px">7</div>
<div class="c w" style="left:403.95px;top:87.26px;width:15.54px;line-height:15.34px">5</div>
<div class="c w" style="left:419.49px;top:87.26px;width:15.54px;line-height:15.34px">3</div>
<div class="c w" style="left:435.03px;top:87.26px;width:15.54px;line-height:15.34px">1</div>
<div class="c w" style="left:450.56px;top:87.26px;width:15.54px;line-height:15.34px">2</div>
</div>
<div class="yt" style="left:15.8px;top:195.27px;line-height:12px;">0.90</div>
<div class="yt" style="left:15.8px;top:209.61px;line-height:12px;">0.85</div>
<div class="yt" style="left:15.8px;top:223.96px;line-height:12px;">0.80</div>
<div class="yt" style="left:15.8px;top:238.3px;line-height:12px;">0.75</div>
<div class="yt" style="left:15.8px;top:252.64px;line-height:12px;">0.70</div>
<div class="yt" style="left:15.8px;top:266.99px;line-height:12px;">0.65</div>
<div class="yt" style="left:15.8px;top:281.33px;line-height:12px;">0.60</div>
<div class="lab" style="left:-32.8px;top:236.8px;width:100px;line-height:14px;transform:rotate(-90deg);">Training ratio</div>
<div class="xt" style="left:21.17px;top:296.1px;line-height:12px;">1</div>
<div class="xt" style="left:36.7px;top:296.1px;line-height:12px;">2</div>
<div class="xt" style="left:52.24px;top:296.1px;line-height:12px;">3</div>
<div class="xt" style="left:67.78px;top:296.1px;line-height:12px;">4</div>
<div class="xt" style="left:83.31px;top:296.1px;line-height:12px;">5</div>
<div class="xt" style="left:98.85px;top:296.1px;line-height:12px;">6</div>
<div class="xt" style="left:114.39px;top:296.1px;line-height:12px;">7</div>
<div class="xt" style="left:129.92px;top:296.1px;line-height:12px;">8</div>
<div class="xt" style="left:145.46px;top:296.1px;line-height:12px;">9</div>
<div class="xt" style="left:161px;top:296.1px;line-height:12px;">10</div>
<div class="xt" style="left:176.53px;top:296.1px;line-height:12px;">11</div>
<div class="xt" style="left:192.07px;top:296.1px;line-height:12px;">12</div>
<div class="xt" style="left:207.61px;top:296.1px;line-height:12px;">13</div>
<div class="xt" style="left:223.14px;top:296.1px;line-height:12px;">14</div>
<div class="xt" style="left:238.68px;top:296.1px;line-height:12px;">15</div>
<div class="xt" style="left:254.22px;top:296.1px;line-height:12px;">16</div>
<div class="xt" style="left:269.75px;top:296.1px;line-height:12px;">17</div>
<div class="xt" style="left:285.29px;top:296.1px;line-height:12px;">18</div>
<div class="xt" style="left:300.83px;top:296.1px;line-height:12px;">19</div>
<div class="xt" style="left:316.37px;top:296.1px;line-height:12px;">20</div>
<div class="xt" style="left:331.9px;top:296.1px;line-height:12px;">21</div>
<div class="xt" style="left:347.44px;top:296.1px;line-height:12px;">22</div>
<div class="xt" style="left:362.98px;top:296.1px;line-height:12px;">23</div>
<div class="xt" style="left:378.51px;top:296.1px;line-height:12px;">24</div>
<div class="xt" style="left:394.05px;top:296.1px;line-height:12px;">25</div>
<div class="xt" style="left:409.58px;top:296.1px;line-height:12px;">26</div>
<div class="xt" style="left:425.12px;top:296.1px;line-height:12px;">27</div>
<div class="xt" style="left:440.66px;top:296.1px;line-height:12px;">28</div>
<div class="xt" style="left:456.19px;top:296.1px;line-height:12px;">29</div>
<div class="xt" style="left:471.73px;top:296.1px;line-height:12px;">30</div>
<div class="lab" style="left:180.7px;top:315.9px;width:200px;line-height:14px;">NumNeighbors</div>
<svg class="a" style="left:517.1px;top:193.6px;overflow:visible" width="6.9" height="100.4" viewBox="0 0 6.9 100.4"><rect x="0" y="90.36" width="6.9" height="10.06" fill="#3e26a8"/><rect x="0" y="80.32" width="6.9" height="10.06" fill="#4747eb"/><rect x="0" y="70.28" width="6.9" height="10.06" fill="#3e6fff"/><rect x="0" y="60.24" width="6.9" height="10.06" fill="#2796eb"/><rect x="0" y="50.2" width="6.9" height="10.06" fill="#08b5d0"/><rect x="0" y="40.16" width="6.9" height="10.06" fill="#31c69f"/><rect x="0" y="30.12" width="6.9" height="10.06" fill="#81cc59"/><rect x="0" y="20.08" width="6.9" height="10.06" fill="#dcbd29"/><rect x="0" y="10.04" width="6.9" height="10.06" fill="#fccf30"/><rect x="0" y="0" width="6.9" height="10.06" fill="#f9fb15"/><rect x="0" y="0" width="6.9" height="100.4" stroke="rgba(40,40,40,0.5)" stroke-width="0.8" fill="none"/><path d="M5.4 76.86H6.9M5.4 52.84H6.9M5.4 28.82H6.9M5.4 4.8H6.9" stroke="rgba(40,40,40,0.5)" stroke-width="0.7"/></svg>
<div class="cbt" style="left:526.7px;top:265.46px;line-height:12px;">50</div>
<div class="cbt" style="left:526.7px;top:241.44px;line-height:12px;">100</div>
<div class="cbt" style="left:526.7px;top:217.42px;line-height:12px;">150</div>
<div class="cbt" style="left:526.7px;top:193.4px;line-height:12px;">200</div>
<div class="ttl" style="left:133.8px;top:347.1px;width:300px;line-height:14px;">d) Total ranking for <i style="margin-left:4.4px">SVM</i><span style="margin-left:-0.5px"> model</span></div>
<svg class="a" style="left:48.8px;top:362.6px;overflow:visible" width="466.4" height="93.9" viewBox="0 0 466.4 93.9"><rect x="0" y="0" width="15.57" height="13.43" fill="#4747eb"/><rect x="15.55" y="0" width="15.57" height="13.43" fill="#4747eb"/><rect x="31.09" y="0" width="15.57" height="13.43" fill="#4747eb"/><rect x="46.64" y="0" width="15.57" height="13.43" fill="#4747eb"/><rect x="62.19" y="0" width="15.57" height="13.43" fill="#3e6fff"/><rect x="77.73" y="0" width="15.57" height="13.43" fill="#4747eb"/><rect x="93.28" y="0" width="15.57" height="13.43" fill="#4747eb"/><rect x="108.83" y="0" width="15.57" height="13.43" fill="#3e6fff"/><rect x="124.37" y="0" width="15.57" height="13.43" fill="#31c69f"/><rect x="139.92" y="0" width="15.57" height="13.43" fill="#08b5d0"/><rect x="155.47" y="0" width="15.57" height="13.43" fill="#f9fb15"/><rect x="171.01" y="0" width="15.57" height="13.43" fill="#f9fb15"/><rect x="186.56" y="0" width="15.57" height="13.43" fill="#dcbd29"/><rect x="202.11" y="0" width="15.57" height="13.43" fill="#f9fb15"/><rect x="217.65" y="0" width="15.57" height="13.43" fill="#f9fb15"/><rect x="233.2" y="0" width="15.57" height="13.43" fill="#f9fb15"/><rect x="248.75" y="0" width="15.57" height="13.43" fill="#f9fb15"/><rect x="264.29" y="0" width="15.57" height="13.43" fill="#f9fb15"/><rect x="279.84" y="0" width="15.57" height="13.43" fill="#f9fb15"/><rect x="295.39" y="0" width="15.57" height="13.43" fill="#f9fb15"/><rect x="310.93" y="0" width="15.57" height="13.43" fill="#f9fb15"/><rect x="326.48" y="0" width="15.57" height="13.43" fill="#f9fb15"/><rect x="342.03" y="0" width="15.57" height="13.43" fill="#f9fb15"/><rect x="357.57" y="0" width="15.57" height="13.43" fill="#f9fb15"/><rect x="373.12" y="0" width="15.57" height="13.43" fill="#dcbd29"/><rect x="388.67" y="0" width="15.57" height="13.43" fill="#dcbd29"/><rect x="404.21" y="0" width="15.57" height="13.43" fill="#dcbd29"/><rect x="419.76" y="0" width="15.57" height="13.43" fill="#dcbd29"/><rect x="435.31" y="0" width="15.57" height="13.43" fill="#dcbd29"/><rect x="450.85" y="0" width="15.57" height="13.43" fill="#fccf30"/><rect x="0" y="13.41" width="15.57" height="13.43" fill="#3e26a8"/><rect x="15.55" y="13.41" width="15.57" height="13.43" fill="#3e26a8"/><rect x="31.09" y="13.41" width="15.57" height="13.43" fill="#3e26a8"/><rect x="46.64" y="13.41" width="15.57" height="13.43" fill="#3e6fff"/><rect x="62.19" y="13.41" width="15.57" height="13.43" fill="#3e6fff"/><rect x="77.73" y="13.41" width="15.57" height="13.43" fill="#3e6fff"/><rect x="93.28" y="13.41" width="15.57" height="13.43" fill="#3e26a8"/><rect x="108.83" y="13.41" width="15.57" height="13.43" fill="#4747eb"/><rect x="124.37" y="13.41" width="15.57" height="13.43" fill="#2796eb"/><rect x="139.92" y="13.41" width="15.57" height="13.43" fill="#f9fb15"/><rect x="155.47" y="13.41" width="15.57" height="13.43" fill="#31c69f"/><rect x="171.01" y="13.41" width="15.57" height="13.43" fill="#dcbd29"/><rect x="186.56" y="13.41" width="15.57" height="13.43" fill="#dcbd29"/><rect x="202.11" y="13.41" width="15.57" height="13.43" fill="#dcbd29"/><rect x="217.65" y="13.41" width="15.57" height="13.43" fill="#81cc59"/><rect x="233.2" y="13.41" width="15.57" height="13.43" fill="#81cc59"/><rect x="248.75" y="13.41" width="15.57" height="13.43" fill="#81cc59"/><rect x="264.29" y="13.41" width="15.57" height="13.43" fill="#81cc59"/><rect x="279.84" y="13.41" width="15.57" height="13.43" fill="#81cc59"/><rect x="295.39" y="13.41" width="15.57" height="13.43" fill="#dcbd29"/><rect x="310.93" y="13.41" width="15.57" height="13.43" fill="#dcbd29"/><rect x="326.48" y="13.41" width="15.57" height="13.43" fill="#81cc59"/><rect x="342.03" y="13.41" width="15.57" height="13.43" fill="#81cc59"/><rect x="357.57" y="13.41" width="15.57" height="13.43" fill="#31c69f"/><rect x="373.12" y="13.41" width="15.57" height="13.43" fill="#08b5d0"/><rect x="388.67" y="13.41" width="15.57" height="13.43" fill="#08b5d0"/><rect x="404.21" y="13.41" width="15.57" height="13.43" fill="#08b5d0"/><rect x="419.76" y="13.41" width="15.57" height="13.43" fill="#08b5d0"/><rect x="435.31" y="13.41" width="15.57" height="13.43" fill="#08b5d0"/><rect x="450.85" y="13.41" width="15.57" height="13.43" fill="#08b5d0"/><rect x="0" y="26.83" width="15.57" height="13.43" fill="#4747eb"/><rect x="15.55" y="26.83" width="15.57" height="13.43" fill="#4747eb"/><rect x="31.09" y="26.83" width="15.57" height="13.43" fill="#3e26a8"/><rect x="46.64" y="26.83" width="15.57" height="13.43" fill="#3e6fff"/><rect x="62.19" y="26.83" width="15.57" height="13.43" fill="#3e26a8"/><rect x="77.73" y="26.83" width="15.57" height="13.43" fill="#3e26a8"/><rect x="93.28" y="26.83" width="15.57" height="13.43" fill="#3e26a8"/><rect x="108.83" y="26.83" width="15.57" height="13.43" fill="#3e6fff"/><rect x="124.37" y="26.83" width="15.57" height="13.43" fill="#3e6fff"/><rect x="139.92" y="26.83" width="15.57" height="13.43" fill="#3e6fff"/><rect x="155.47" y="26.83" width="15.57" height="13.43" fill="#dcbd29"/><rect x="171.01" y="26.83" width="15.57" height="13.43" fill="#f9fb15"/><rect x="186.56" y="26.83" width="15.57" height="13.43" fill="#f9fb15"/><rect x="202.11" y="26.83" width="15.57" height="13.43" fill="#f9fb15"/><rect x="217.65" y="26.83" width="15.57" height="13.43" fill="#f9fb15"/><rect x="233.2" y="26.83" width="15.57" height="13.43" fill="#f9fb15"/><rect x="248.75" y="26.83" width="15.57" height="13.43" fill="#f9fb15"/><rect x="264.29" y="26.83" width="15.57" height="13.43" fill="#fccf30"/><rect x="279.84" y="26.83" width="15.57" height="13.43" fill="#fccf30"/><rect x="295.39" y="26.83" width="15.57" height="13.43" fill="#fccf30"/><rect x="310.93" y="26.83" width="15.57" height="13.43" fill="#fccf30"/><rect x="326.48" y="26.83" width="15.57" height="13.43" fill="#fccf30"/><rect x="342.03" y="26.83" width="15.57" height="13.43" fill="#fccf30"/><rect x="357.57" y="26.83" width="15.57" height="13.43" fill="#fccf30"/><rect x="373.12" y="26.83" width="15.57" height="13.43" fill="#fccf30"/><rect x="388.67" y="26.83" width="15.57" height="13.43" fill="#fccf30"/><rect x="404.21" y="26.83" width="15.57" height="13.43" fill="#fccf30"/><rect x="419.76" y="26.83" width="15.57" height="13.43" fill="#dcbd29"/><rect x="435.31" y="26.83" width="15.57" height="13.43" fill="#fccf30"/><rect x="450.85" y="26.83" width="15.57" height="13.43" fill="#fccf30"/><rect x="0" y="40.24" width="15.57" height="13.43" fill="#4747eb"/><rect x="15.55" y="40.24" width="15.57" height="13.43" fill="#4747eb"/><rect x="31.09" y="40.24" width="15.57" height="13.43" fill="#4747eb"/><rect x="46.64" y="40.24" width="15.57" height="13.43" fill="#4747eb"/><rect x="62.19" y="40.24" width="15.57" height="13.43" fill="#3e6fff"/><rect x="77.73" y="40.24" width="15.57" height="13.43" fill="#4747eb"/><rect x="93.28" y="40.24" width="15.57" height="13.43" fill="#3e26a8"/><rect x="108.83" y="40.24" width="15.57" height="13.43" fill="#3e6fff"/><rect x="124.37" y="40.24" width="15.57" height="13.43" fill="#3e6fff"/><rect x="139.92" y="40.24" width="15.57" height="13.43" fill="#3e6fff"/><rect x="155.47" y="40.24" width="15.57" height="13.43" fill="#2796eb"/><rect x="171.01" y="40.24" width="15.57" height="13.43" fill="#2796eb"/><rect x="186.56" y="40.24" width="15.57" height="13.43" fill="#2796eb"/><rect x="202.11" y="40.24" width="15.57" height="13.43" fill="#2796eb"/><rect x="217.65" y="40.24" width="15.57" height="13.43" fill="#2796eb"/><rect x="233.2" y="40.24" width="15.57" height="13.43" fill="#2796eb"/><rect x="248.75" y="40.24" width="15.57" height="13.43" fill="#2796eb"/><rect x="264.29" y="40.24" width="15.57" height="13.43" fill="#2796eb"/><rect x="279.84" y="40.24" width="15.57" height="13.43" fill="#2796eb"/><rect x="295.39" y="40.24" width="15.57" height="13.43" fill="#2796eb"/><rect x="310.93" y="40.24" width="15.57" height="13.43" fill="#2796eb"/><rect x="326.48" y="40.24" width="15.57" height="13.43" fill="#2796eb"/><rect x="342.03" y="40.24" width="15.57" height="13.43" fill="#2796eb"/><rect x="357.57" y="40.24" width="15.57" height="13.43" fill="#2796eb"/><rect x="373.12" y="40.24" width="15.57" height="13.43" fill="#2796eb"/><rect x="388.67" y="40.24" width="15.57" height="13.43" fill="#2796eb"/><rect x="404.21" y="40.24" width="15.57" height="13.43" fill="#08b5d0"/><rect x="419.76" y="40.24" width="15.57" height="13.43" fill="#08b5d0"/><rect x="435.31" y="40.24" width="15.57" height="13.43" fill="#08b5d0"/><rect x="450.85" y="40.24" width="15.57" height="13.43" fill="#08b5d0"/><rect x="0" y="53.66" width="15.57" height="13.43" fill="#4747eb"/><rect x="15.55" y="53.66" width="15.57" height="13.43" fill="#4747eb"/><rect x="31.09" y="53.66" width="15.57" height="13.43" fill="#4747eb"/><rect x="46.64" y="53.66" width="15.57" height="13.43" fill="#3e6fff"/><rect x="62.19" y="53.66" width="15.57" height="13.43" fill="#3e6fff"/><rect x="77.73" y="53.66" width="15.57" height="13.43" fill="#3e6fff"/><rect x="93.28" y="53.66" width="15.57" height="13.43" fill="#3e26a8"/><rect x="108.83" y="53.66" width="15.57" height="13.43" fill="#4747eb"/><rect x="124.37" y="53.66" width="15.57" height="13.43" fill="#3e6fff"/><rect x="139.92" y="53.66" width="15.57" height="13.43" fill="#3e6fff"/><rect x="155.47" y="53.66" width="15.57" height="13.43" fill="#81cc59"/><rect x="171.01" y="53.66" width="15.57" height="13.43" fill="#31c69f"/><rect x="186.56" y="53.66" width="15.57" height="13.43" fill="#31c69f"/><rect x="202.11" y="53.66" width="15.57" height="13.43" fill="#31c69f"/><rect x="217.65" y="53.66" width="15.57" height="13.43" fill="#31c69f"/><rect x="233.2" y="53.66" width="15.57" height="13.43" fill="#08b5d0"/><rect x="248.75" y="53.66" width="15.57" height="13.43" fill="#31c69f"/><rect x="264.29" y="53.66" width="15.57" height="13.43" fill="#31c69f"/><rect x="279.84" y="53.66" width="15.57" height="13.43" fill="#31c69f"/><rect x="295.39" y="53.66" width="15.57" height="13.43" fill="#31c69f"/><rect x="310.93" y="53.66" width="15.57" height="13.43" fill="#31c69f"/><rect x="326.48" y="53.66" width="15.57" height="13.43" fill="#31c69f"/><rect x="342.03" y="53.66" width="15.57" height="13.43" fill="#31c69f"/><rect x="357.57" y="53.66" width="15.57" height="13.43" fill="#81cc59"/><rect x="373.12" y="53.66" width="15.57" height="13.43" fill="#81cc59"/><rect x="388.67" y="53.66" width="15.57" height="13.43" fill="#81cc59"/><rect x="404.21" y="53.66" width="15.57" height="13.43" fill="#81cc59"/><rect x="419.76" y="53.66" width="15.57" height="13.43" fill="#81cc59"/><rect x="435.31" y="53.66" width="15.57" height="13.43" fill="#81cc59"/><rect x="450.85" y="53.66" width="15.57" height="13.43" fill="#81cc59"/><rect x="0" y="67.07" width="15.57" height="13.43" fill="#3e26a8"/><rect x="15.55" y="67.07" width="15.57" height="13.43" fill="#3e26a8"/><rect x="31.09" y="67.07" width="15.57" height="13.43" fill="#3e26a8"/><rect x="46.64" y="67.07" width="15.57" height="13.43" fill="#3e26a8"/><rect x="62.19" y="67.07" width="15.57" height="13.43" fill="#3e26a8"/><rect x="77.73" y="67.07" width="15.57" height="13.43" fill="#4747eb"/><rect x="93.28" y="67.07" width="15.57" height="13.43" fill="#3e26a8"/><rect x="108.83" y="67.07" width="15.57" height="13.43" fill="#3e6fff"/><rect x="124.37" y="67.07" width="15.57" height="13.43" fill="#3e6fff"/><rect x="139.92" y="67.07" width="15.57" height="13.43" fill="#31c69f"/><rect x="155.47" y="67.07" width="15.57" height="13.43" fill="#08b5d0"/><rect x="171.01" y="67.07" width="15.57" height="13.43" fill="#08b5d0"/><rect x="186.56" y="67.07" width="15.57" height="13.43" fill="#08b5d0"/><rect x="202.11" y="67.07" width="15.57" height="13.43" fill="#2796eb"/><rect x="217.65" y="67.07" width="15.57" height="13.43" fill="#2796eb"/><rect x="233.2" y="67.07" width="15.57" height="13.43" fill="#2796eb"/><rect x="248.75" y="67.07" width="15.57" height="13.43" fill="#08b5d0"/><rect x="264.29" y="67.07" width="15.57" height="13.43" fill="#08b5d0"/><rect x="279.84" y="67.07" width="15.57" height="13.43" fill="#08b5d0"/><rect x="295.39" y="67.07" width="15.57" height="13.43" fill="#08b5d0"/><rect x="310.93" y="67.07" width="15.57" height="13.43" fill="#08b5d0"/><rect x="326.48" y="67.07" width="15.57" height="13.43" fill="#08b5d0"/><rect x="342.03" y="67.07" width="15.57" height="13.43" fill="#31c69f"/><rect x="357.57" y="67.07" width="15.57" height="13.43" fill="#31c69f"/><rect x="373.12" y="67.07" width="15.57" height="13.43" fill="#31c69f"/><rect x="388.67" y="67.07" width="15.57" height="13.43" fill="#31c69f"/><rect x="404.21" y="67.07" width="15.57" height="13.43" fill="#31c69f"/><rect x="419.76" y="67.07" width="15.57" height="13.43" fill="#81cc59"/><rect x="435.31" y="67.07" width="15.57" height="13.43" fill="#81cc59"/><rect x="450.85" y="67.07" width="15.57" height="13.43" fill="#81cc59"/><rect x="0" y="80.49" width="15.57" height="13.43" fill="#4747eb"/><rect x="15.55" y="80.49" width="15.57" height="13.43" fill="#3e26a8"/><rect x="31.09" y="80.49" width="15.57" height="13.43" fill="#4747eb"/><rect x="46.64" y="80.49" width="15.57" height="13.43" fill="#3e26a8"/><rect x="62.19" y="80.49" width="15.57" height="13.43" fill="#3e26a8"/><rect x="77.73" y="80.49" width="15.57" height="13.43" fill="#3e26a8"/><rect x="93.28" y="80.49" width="15.57" height="13.43" fill="#3e26a8"/><rect x="108.83" y="80.49" width="15.57" height="13.43" fill="#3e6fff"/><rect x="124.37" y="80.49" width="15.57" height="13.43" fill="#2796eb"/><rect x="139.92" y="80.49" width="15.57" height="13.43" fill="#31c69f"/><rect x="155.47" y="80.49" width="15.57" height="13.43" fill="#81cc59"/><rect x="171.01" y="80.49" width="15.57" height="13.43" fill="#81cc59"/><rect x="186.56" y="80.49" width="15.57" height="13.43" fill="#81cc59"/><rect x="202.11" y="80.49" width="15.57" height="13.43" fill="#dcbd29"/><rect x="217.65" y="80.49" width="15.57" height="13.43" fill="#dcbd29"/><rect x="233.2" y="80.49" width="15.57" height="13.43" fill="#fccf30"/><rect x="248.75" y="80.49" width="15.57" height="13.43" fill="#fccf30"/><rect x="264.29" y="80.49" width="15.57" height="13.43" fill="#dcbd29"/><rect x="279.84" y="80.49" width="15.57" height="13.43" fill="#dcbd29"/><rect x="295.39" y="80.49" width="15.57" height="13.43" fill="#dcbd29"/><rect x="310.93" y="80.49" width="15.57" height="13.43" fill="#dcbd29"/><rect x="326.48" y="80.49" width="15.57" height="13.43" fill="#dcbd29"/><rect x="342.03" y="80.49" width="15.57" height="13.43" fill="#dcbd29"/><rect x="357.57" y="80.49" width="15.57" height="13.43" fill="#fccf30"/><rect x="373.12" y="80.49" width="15.57" height="13.43" fill="#fccf30"/><rect x="388.67" y="80.49" width="15.57" height="13.43" fill="#fccf30"/><rect x="404.21" y="80.49" width="15.57" height="13.43" fill="#fccf30"/><rect x="419.76" y="80.49" width="15.57" height="13.43" fill="#fccf30"/><rect x="435.31" y="80.49" width="15.57" height="13.43" fill="#f9fb15"/><rect x="450.85" y="80.49" width="15.57" height="13.43" fill="#fccf30"/><path d="M15.55 0V93.9M31.09 0V93.9M46.64 0V93.9M62.19 0V93.9M77.73 0V93.9M93.28 0V93.9M108.83 0V93.9M124.37 0V93.9M139.92 0V93.9M155.47 0V93.9M171.01 0V93.9M186.56 0V93.9M202.11 0V93.9M217.65 0V93.9M233.2 0V93.9M248.75 0V93.9M264.29 0V93.9M279.84 0V93.9M295.39 0V93.9M310.93 0V93.9M326.48 0V93.9M342.03 0V93.9M357.57 0V93.9M373.12 0V93.9M388.67 0V93.9M404.21 0V93.9M419.76 0V93.9M435.31 0V93.9M450.85 0V93.9M0 13.41H466.4M0 26.83H466.4M0 40.24H466.4M0 53.66H466.4M0 67.07H466.4M0 80.49H466.4" stroke="rgba(40,40,40,0.5)" stroke-width="0.8" fill="none"/><rect x="0" y="0" width="466.4" height="93.9" stroke="rgba(40,40,40,0.45)" stroke-width="0.7" fill="none"/></svg>
<div class="hm" style="left:48.8px;top:362.6px;width:466.4px;height:93.9px;">
<div class="c w" style="left:0px;top:1.2px;width:15.55px;line-height:14.41px">33</div>
<div class="c w" style="left:15.55px;top:1.2px;width:15.55px;line-height:14.41px">32</div>
<div class="c w" style="left:31.09px;top:1.2px;width:15.55px;line-height:14.41px">34</div>
<div class="c w" style="left:46.64px;top:1.2px;width:15.55px;line-height:14.41px">35</div>
<div class="c w" style="left:62.19px;top:1.2px;width:15.55px;line-height:14.41px">45</div>
<div class="c w" style="left:77.73px;top:1.2px;width:15.55px;line-height:14.41px">38</div>
<div class="c w" style="left:93.28px;top:1.2px;width:15.55px;line-height:14.41px">24</div>
<div class="c w" style="left:108.83px;top:1.2px;width:15.55px;line-height:14.41px">57</div>
<div class="c k" style="left:124.37px;top:1.2px;width:15.55px;line-height:14.41px">112</div>
<div class="c k" style="left:139.92px;top:1.2px;width:15.55px;line-height:14.41px">97</div>
<div class="c k" style="left:155.47px;top:1.2px;width:15.55px;line-height:14.41px">203</div>
<div class="c k" style="left:171.01px;top:1.2px;width:15.55px;line-height:14.41px">191</div>
<div class="c k" style="left:186.56px;top:1.2px;width:15.55px;line-height:14.41px">167</div>
<div class="c k" style="left:202.11px;top:1.2px;width:15.55px;line-height:14.41px">204</div>
<div class="c k" style="left:217.65px;top:1.2px;width:15.55px;line-height:14.41px">201</div>
<div class="c k" style="left:233.2px;top:1.2px;width:15.55px;line-height:14.41px">201</div>
<div class="c k" style="left:248.75px;top:1.2px;width:15.55px;line-height:14.41px">196</div>
<div class="c k" style="left:264.29px;top:1.2px;width:15.55px;line-height:14.41px">196</div>
<div class="c k" style="left:279.84px;top:1.2px;width:15.55px;line-height:14.41px">196</div>
<div class="c k" style="left:295.39px;top:1.2px;width:15.55px;line-height:14.41px">196</div>
<div class="c k" style="left:310.93px;top:1.2px;width:15.55px;line-height:14.41px">196</div>
<div class="c k" style="left:326.48px;top:1.2px;width:15.55px;line-height:14.41px">195</div>
<div class="c k" style="left:342.03px;top:1.2px;width:15.55px;line-height:14.41px">191</div>
<div class="c k" style="left:357.57px;top:1.2px;width:15.55px;line-height:14.41px">191</div>
<div class="c k" style="left:373.12px;top:1.2px;width:15.55px;line-height:14.41px">164</div>
<div class="c k" style="left:388.67px;top:1.2px;width:15.55px;line-height:14.41px">159</div>
<div class="c k" style="left:404.21px;top:1.2px;width:15.55px;line-height:14.41px">159</div>
<div class="c k" style="left:419.76px;top:1.2px;width:15.55px;line-height:14.41px">158</div>
<div class="c k" style="left:435.31px;top:1.2px;width:15.55px;line-height:14.41px">159</div>
<div class="c k" style="left:450.85px;top:1.2px;width:15.55px;line-height:14.41px">186</div>
<div class="c w" style="left:0px;top:14.61px;width:15.55px;line-height:14.41px">12</div>
<div class="c w" style="left:15.55px;top:14.61px;width:15.55px;line-height:14.41px">11</div>
<div class="c w" style="left:31.09px;top:14.61px;width:15.55px;line-height:14.41px">10</div>
<div class="c w" style="left:46.64px;top:14.61px;width:15.55px;line-height:14.41px">49</div>
<div class="c w" style="left:62.19px;top:14.61px;width:15.55px;line-height:14.41px">47</div>
<div class="c w" style="left:77.73px;top:14.61px;width:15.55px;line-height:14.41px">52</div>
<div class="c w" style="left:93.28px;top:14.61px;width:15.55px;line-height:14.41px">9</div>
<div class="c w" style="left:108.83px;top:14.61px;width:15.55px;line-height:14.41px">30</div>
<div class="c w" style="left:124.37px;top:14.61px;width:15.55px;line-height:14.41px">64</div>
<div class="c k" style="left:139.92px;top:14.61px;width:15.55px;line-height:14.41px">191</div>
<div class="c k" style="left:155.47px;top:14.61px;width:15.55px;line-height:14.41px">119</div>
<div class="c k" style="left:171.01px;top:14.61px;width:15.55px;line-height:14.41px">151</div>
<div class="c k" style="left:186.56px;top:14.61px;width:15.55px;line-height:14.41px">157</div>
<div class="c k" style="left:202.11px;top:14.61px;width:15.55px;line-height:14.41px">163</div>
<div class="c k" style="left:217.65px;top:14.61px;width:15.55px;line-height:14.41px">146</div>
<div class="c k" style="left:233.2px;top:14.61px;width:15.55px;line-height:14.41px">144</div>
<div class="c k" style="left:248.75px;top:14.61px;width:15.55px;line-height:14.41px">142</div>
<div class="c k" style="left:264.29px;top:14.61px;width:15.55px;line-height:14.41px">141</div>
<div class="c k" style="left:279.84px;top:14.61px;width:15.55px;line-height:14.41px">138</div>
<div class="c k" style="left:295.39px;top:14.61px;width:15.55px;line-height:14.41px">151</div>
<div class="c k" style="left:310.93px;top:14.61px;width:15.55px;line-height:14.41px">149</div>
<div class="c k" style="left:326.48px;top:14.61px;width:15.55px;line-height:14.41px">146</div>
<div class="c k" style="left:342.03px;top:14.61px;width:15.55px;line-height:14.41px">140</div>
<div class="c k" style="left:357.57px;top:14.61px;width:15.55px;line-height:14.41px">120</div>
<div class="c k" style="left:373.12px;top:14.61px;width:15.55px;line-height:14.41px">100</div>
<div class="c k" style="left:388.67px;top:14.61px;width:15.55px;line-height:14.41px">99</div>
<div class="c k" style="left:404.21px;top:14.61px;width:15.55px;line-height:14.41px">98</div>
<div class="c k" style="left:419.76px;top:14.61px;width:15.55px;line-height:14.41px">95</div>
<div class="c k" style="left:435.31px;top:14.61px;width:15.55px;line-height:14.41px">94</div>
<div class="c k" style="left:450.85px;top:14.61px;width:15.55px;line-height:14.41px">93</div>
<div class="c w" style="left:0px;top:28.03px;width:15.55px;line-height:14.41px">28</div>
<div class="c w" style="left:15.55px;top:28.03px;width:15.55px;line-height:14.41px">31</div>
<div class="c w" style="left:31.09px;top:28.03px;width:15.55px;line-height:14.41px">17</div>
<div class="c w" style="left:46.64px;top:28.03px;width:15.55px;line-height:14.41px">44</div>
<div class="c w" style="left:62.19px;top:28.03px;width:15.55px;line-height:14.41px">15</div>
<div class="c w" style="left:77.73px;top:28.03px;width:15.55px;line-height:14.41px">2</div>
<div class="c w" style="left:93.28px;top:28.03px;width:15.55px;line-height:14.41px">13</div>
<div class="c w" style="left:108.83px;top:28.03px;width:15.55px;line-height:14.41px">54</div>
<div class="c w" style="left:124.37px;top:28.03px;width:15.55px;line-height:14.41px">60</div>
<div class="c w" style="left:139.92px;top:28.03px;width:15.55px;line-height:14.41px">63</div>
<div class="c k" style="left:155.47px;top:28.03px;width:15.55px;line-height:14.41px">159</div>
<div class="c k" style="left:171.01px;top:28.03px;width:15.55px;line-height:14.41px">210</div>
<div class="c k" style="left:186.56px;top:28.03px;width:15.55px;line-height:14.41px">208</div>
<div class="c k" style="left:202.11px;top:28.03px;width:15.55px;line-height:14.41px">209</div>
<div class="c k" style="left:217.65px;top:28.03px;width:15.55px;line-height:14.41px">205</div>
<div class="c k" style="left:233.2px;top:28.03px;width:15.55px;line-height:14.41px">207</div>
<div class="c k" style="left:248.75px;top:28.03px;width:15.55px;line-height:14.41px">206</div>
<div class="c k" style="left:264.29px;top:28.03px;width:15.55px;line-height:14.41px">175</div>
<div class="c k" style="left:279.84px;top:28.03px;width:15.55px;line-height:14.41px">173</div>
<div class="c k" style="left:295.39px;top:28.03px;width:15.55px;line-height:14.41px">169</div>
<div class="c k" style="left:310.93px;top:28.03px;width:15.55px;line-height:14.41px">176</div>
<div class="c k" style="left:326.48px;top:28.03px;width:15.55px;line-height:14.41px">180</div>
<div class="c k" style="left:342.03px;top:28.03px;width:15.55px;line-height:14.41px">179</div>
<div class="c k" style="left:357.57px;top:28.03px;width:15.55px;line-height:14.41px">178</div>
<div class="c k" style="left:373.12px;top:28.03px;width:15.55px;line-height:14.41px">177</div>
<div class="c k" style="left:388.67px;top:28.03px;width:15.55px;line-height:14.41px">172</div>
<div class="c k" style="left:404.21px;top:28.03px;width:15.55px;line-height:14.41px">171</div>
<div class="c k" style="left:419.76px;top:28.03px;width:15.55px;line-height:14.41px">165</div>
<div class="c k" style="left:435.31px;top:28.03px;width:15.55px;line-height:14.41px">185</div>
<div class="c k" style="left:450.85px;top:28.03px;width:15.55px;line-height:14.41px">182</div>
<div class="c w" style="left:0px;top:41.44px;width:15.55px;line-height:14.41px">25</div>
<div class="c w" style="left:15.55px;top:41.44px;width:15.55px;line-height:14.41px">26</div>
<div class="c w" style="left:31.09px;top:41.44px;width:15.55px;line-height:14.41px">28</div>
<div class="c w" style="left:46.64px;top:41.44px;width:15.55px;line-height:14.41px">36</div>
<div class="c w" style="left:62.19px;top:41.44px;width:15.55px;line-height:14.41px">47</div>
<div class="c w" style="left:77.73px;top:41.44px;width:15.55px;line-height:14.41px">37</div>
<div class="c w" style="left:93.28px;top:41.44px;width:15.55px;line-height:14.41px">14</div>
<div class="c w" style="left:108.83px;top:41.44px;width:15.55px;line-height:14.41px">53</div>
<div class="c w" style="left:124.37px;top:41.44px;width:15.55px;line-height:14.41px">58</div>
<div class="c w" style="left:139.92px;top:41.44px;width:15.55px;line-height:14.41px">59</div>
<div class="c w" style="left:155.47px;top:41.44px;width:15.55px;line-height:14.41px">65</div>
<div class="c w" style="left:171.01px;top:41.44px;width:15.55px;line-height:14.41px">83</div>
<div class="c w" style="left:186.56px;top:41.44px;width:15.55px;line-height:14.41px">67</div>
<div class="c w" style="left:202.11px;top:41.44px;width:15.55px;line-height:14.41px">68</div>
<div class="c w" style="left:217.65px;top:41.44px;width:15.55px;line-height:14.41px">69</div>
<div class="c w" style="left:233.2px;top:41.44px;width:15.55px;line-height:14.41px">70</div>
<div class="c w" style="left:248.75px;top:41.44px;width:15.55px;line-height:14.41px">71</div>
<div class="c w" style="left:264.29px;top:41.44px;width:15.55px;line-height:14.41px">74</div>
<div class="c w" style="left:279.84px;top:41.44px;width:15.55px;line-height:14.41px">73</div>
<div class="c w" style="left:295.39px;top:41.44px;width:15.55px;line-height:14.41px">72</div>
<div class="c w" style="left:310.93px;top:41.44px;width:15.55px;line-height:14.41px">75</div>
<div class="c w" style="left:326.48px;top:41.44px;width:15.55px;line-height:14.41px">75</div>
<div class="c w" style="left:342.03px;top:41.44px;width:15.55px;line-height:14.41px">77</div>
<div class="c w" style="left:357.57px;top:41.44px;width:15.55px;line-height:14.41px">78</div>
<div class="c w" style="left:373.12px;top:41.44px;width:15.55px;line-height:14.41px">82</div>
<div class="c w" style="left:388.67px;top:41.44px;width:15.55px;line-height:14.41px">84</div>
<div class="c k" style="left:404.21px;top:41.44px;width:15.55px;line-height:14.41px">85</div>
<div class="c k" style="left:419.76px;top:41.44px;width:15.55px;line-height:14.41px">86</div>
<div class="c k" style="left:435.31px;top:41.44px;width:15.55px;line-height:14.41px">88</div>
<div class="c k" style="left:450.85px;top:41.44px;width:15.55px;line-height:14.41px">92</div>
<div class="c w" style="left:0px;top:54.86px;width:15.55px;line-height:14.41px">39</div>
<div class="c w" style="left:15.55px;top:54.86px;width:15.55px;line-height:14.41px">39</div>
<div class="c w" style="left:31.09px;top:54.86px;width:15.55px;line-height:14.41px">39</div>
<div class="c w" style="left:46.64px;top:54.86px;width:15.55px;line-height:14.41px">43</div>
<div class="c w" style="left:62.19px;top:54.86px;width:15.55px;line-height:14.41px">51</div>
<div class="c w" style="left:77.73px;top:54.86px;width:15.55px;line-height:14.41px">50</div>
<div class="c w" style="left:93.28px;top:54.86px;width:15.55px;line-height:14.41px">6</div>
<div class="c w" style="left:108.83px;top:54.86px;width:15.55px;line-height:14.41px">42</div>
<div class="c w" style="left:124.37px;top:54.86px;width:15.55px;line-height:14.41px">56</div>
<div class="c w" style="left:139.92px;top:54.86px;width:15.55px;line-height:14.41px">62</div>
<div class="c k" style="left:155.47px;top:54.86px;width:15.55px;line-height:14.41px">131</div>
<div class="c k" style="left:171.01px;top:54.86px;width:15.55px;line-height:14.41px">118</div>
<div class="c k" style="left:186.56px;top:54.86px;width:15.55px;line-height:14.41px">107</div>
<div class="c k" style="left:202.11px;top:54.86px;width:15.55px;line-height:14.41px">109</div>
<div class="c k" style="left:217.65px;top:54.86px;width:15.55px;line-height:14.41px">106</div>
<div class="c k" style="left:233.2px;top:54.86px;width:15.55px;line-height:14.41px">105</div>
<div class="c k" style="left:248.75px;top:54.86px;width:15.55px;line-height:14.41px">107</div>
<div class="c k" style="left:264.29px;top:54.86px;width:15.55px;line-height:14.41px">113</div>
<div class="c k" style="left:279.84px;top:54.86px;width:15.55px;line-height:14.41px">125</div>
<div class="c k" style="left:295.39px;top:54.86px;width:15.55px;line-height:14.41px">115</div>
<div class="c k" style="left:310.93px;top:54.86px;width:15.55px;line-height:14.41px">115</div>
<div class="c k" style="left:326.48px;top:54.86px;width:15.55px;line-height:14.41px">123</div>
<div class="c k" style="left:342.03px;top:54.86px;width:15.55px;line-height:14.41px">122</div>
<div class="c k" style="left:357.57px;top:54.86px;width:15.55px;line-height:14.41px">127</div>
<div class="c k" style="left:373.12px;top:54.86px;width:15.55px;line-height:14.41px">133</div>
<div class="c k" style="left:388.67px;top:54.86px;width:15.55px;line-height:14.41px">134</div>
<div class="c k" style="left:404.21px;top:54.86px;width:15.55px;line-height:14.41px">135</div>
<div class="c k" style="left:419.76px;top:54.86px;width:15.55px;line-height:14.41px">137</div>
<div class="c k" style="left:435.31px;top:54.86px;width:15.55px;line-height:14.41px">143</div>
<div class="c k" style="left:450.85px;top:54.86px;width:15.55px;line-height:14.41px">145</div>
<div class="c w" style="left:0px;top:68.27px;width:15.55px;line-height:14.41px">3</div>
<div class="c w" style="left:15.55px;top:68.27px;width:15.55px;line-height:14.41px">4</div>
<div class="c w" style="left:31.09px;top:68.27px;width:15.55px;line-height:14.41px">5</div>
<div class="c w" style="left:46.64px;top:68.27px;width:15.55px;line-height:14.41px">1</div>
<div class="c w" style="left:62.19px;top:68.27px;width:15.55px;line-height:14.41px">7</div>
<div class="c w" style="left:77.73px;top:68.27px;width:15.55px;line-height:14.41px">27</div>
<div class="c w" style="left:93.28px;top:68.27px;width:15.55px;line-height:14.41px">20</div>
<div class="c w" style="left:108.83px;top:68.27px;width:15.55px;line-height:14.41px">45</div>
<div class="c w" style="left:124.37px;top:68.27px;width:15.55px;line-height:14.41px">61</div>
<div class="c k" style="left:139.92px;top:68.27px;width:15.55px;line-height:14.41px">111</div>
<div class="c k" style="left:155.47px;top:68.27px;width:15.55px;line-height:14.41px">104</div>
<div class="c k" style="left:171.01px;top:68.27px;width:15.55px;line-height:14.41px">88</div>
<div class="c k" style="left:186.56px;top:68.27px;width:15.55px;line-height:14.41px">101</div>
<div class="c w" style="left:202.11px;top:68.27px;width:15.55px;line-height:14.41px">80</div>
<div class="c w" style="left:217.65px;top:68.27px;width:15.55px;line-height:14.41px">79</div>
<div class="c w" style="left:233.2px;top:68.27px;width:15.55px;line-height:14.41px">81</div>
<div class="c k" style="left:248.75px;top:68.27px;width:15.55px;line-height:14.41px">87</div>
<div class="c k" style="left:264.29px;top:68.27px;width:15.55px;line-height:14.41px">88</div>
<div class="c k" style="left:279.84px;top:68.27px;width:15.55px;line-height:14.41px">91</div>
<div class="c k" style="left:295.39px;top:68.27px;width:15.55px;line-height:14.41px">96</div>
<div class="c k" style="left:310.93px;top:68.27px;width:15.55px;line-height:14.41px">102</div>
<div class="c k" style="left:326.48px;top:68.27px;width:15.55px;line-height:14.41px">103</div>
<div class="c k" style="left:342.03px;top:68.27px;width:15.55px;line-height:14.41px">109</div>
<div class="c k" style="left:357.57px;top:68.27px;width:15.55px;line-height:14.41px">124</div>
<div class="c k" style="left:373.12px;top:68.27px;width:15.55px;line-height:14.41px">113</div>
<div class="c k" style="left:388.67px;top:68.27px;width:15.55px;line-height:14.41px">115</div>
<div class="c k" style="left:404.21px;top:68.27px;width:15.55px;line-height:14.41px">126</div>
<div class="c k" style="left:419.76px;top:68.27px;width:15.55px;line-height:14.41px">127</div>
<div class="c k" style="left:435.31px;top:68.27px;width:15.55px;line-height:14.41px">130</div>
<div class="c k" style="left:450.85px;top:68.27px;width:15.55px;line-height:14.41px">132</div>
<div class="c w" style="left:0px;top:81.69px;width:15.55px;line-height:14.41px">22</div>
<div class="c w" style="left:15.55px;top:81.69px;width:15.55px;line-height:14.41px">21</div>
<div class="c w" style="left:31.09px;top:81.69px;width:15.55px;line-height:14.41px">23</div>
<div class="c w" style="left:46.64px;top:81.69px;width:15.55px;line-height:14.41px">8</div>
<div class="c w" style="left:62.19px;top:81.69px;width:15.55px;line-height:14.41px">16</div>
<div class="c w" style="left:77.73px;top:81.69px;width:15.55px;line-height:14.41px">17</div>
<div class="c w" style="left:93.28px;top:81.69px;width:15.55px;line-height:14.41px">19</div>
<div class="c w" style="left:108.83px;top:81.69px;width:15.55px;line-height:14.41px">55</div>
<div class="c w" style="left:124.37px;top:81.69px;width:15.55px;line-height:14.41px">66</div>
<div class="c k" style="left:139.92px;top:81.69px;width:15.55px;line-height:14.41px">121</div>
<div class="c k" style="left:155.47px;top:81.69px;width:15.55px;line-height:14.41px">127</div>
<div class="c k" style="left:171.01px;top:81.69px;width:15.55px;line-height:14.41px">138</div>
<div class="c k" style="left:186.56px;top:81.69px;width:15.55px;line-height:14.41px">136</div>
<div class="c k" style="left:202.11px;top:81.69px;width:15.55px;line-height:14.41px">165</div>
<div class="c k" style="left:217.65px;top:81.69px;width:15.55px;line-height:14.41px">167</div>
<div class="c k" style="left:233.2px;top:81.69px;width:15.55px;line-height:14.41px">174</div>
<div class="c k" style="left:248.75px;top:81.69px;width:15.55px;line-height:14.41px">169</div>
<div class="c k" style="left:264.29px;top:81.69px;width:15.55px;line-height:14.41px">148</div>
<div class="c k" style="left:279.84px;top:81.69px;width:15.55px;line-height:14.41px">150</div>
<div class="c k" style="left:295.39px;top:81.69px;width:15.55px;line-height:14.41px">153</div>
<div class="c k" style="left:310.93px;top:81.69px;width:15.55px;line-height:14.41px">154</div>
<div class="c k" style="left:326.48px;top:81.69px;width:15.55px;line-height:14.41px">155</div>
<div class="c k" style="left:342.03px;top:81.69px;width:15.55px;line-height:14.41px">155</div>
<div class="c k" style="left:357.57px;top:81.69px;width:15.55px;line-height:14.41px">182</div>
<div class="c k" style="left:373.12px;top:81.69px;width:15.55px;line-height:14.41px">184</div>
<div class="c k" style="left:388.67px;top:81.69px;width:15.55px;line-height:14.41px">186</div>
<div class="c k" style="left:404.21px;top:81.69px;width:15.55px;line-height:14.41px">188</div>
<div class="c k" style="left:419.76px;top:81.69px;width:15.55px;line-height:14.41px">189</div>
<div class="c k" style="left:435.31px;top:81.69px;width:15.55px;line-height:14.41px">190</div>
<div class="c k" style="left:450.85px;top:81.69px;width:15.55px;line-height:14.41px">180</div>
</div>
<div class="yt" style="left:16.3px;top:363.81px;line-height:12px;">0.90</div>
<div class="yt" style="left:16.3px;top:377.22px;line-height:12px;">0.85</div>
<div class="yt" style="left:16.3px;top:390.64px;line-height:12px;">0.80</div>
<div class="yt" style="left:16.3px;top:404.05px;line-height:12px;">0.75</div>
<div class="yt" style="left:16.3px;top:417.46px;line-height:12px;">0.70</div>
<div class="yt" style="left:16.3px;top:430.88px;line-height:12px;">0.65</div>
<div class="yt" style="left:16.3px;top:444.29px;line-height:12px;">0.60</div>
<div class="lab" style="left:-32.8px;top:402.55px;width:100px;line-height:14px;transform:rotate(-90deg);">Training ratio</div>
<div class="xt" style="left:21.67px;top:458.6px;line-height:12px;">0.01</div>
<div class="xt" style="left:37.22px;top:458.6px;line-height:12px;">0.02</div>
<div class="xt" style="left:52.77px;top:458.6px;line-height:12px;">0.03</div>
<div class="xt" style="left:68.31px;top:458.6px;line-height:12px;">0.04</div>
<div class="xt" style="left:83.86px;top:458.6px;line-height:12px;">0.05</div>
<div class="xt" style="left:99.41px;top:458.6px;line-height:12px;">0.06</div>
<div class="xt" style="left:114.95px;top:458.6px;line-height:12px;">0.07</div>
<div class="xt" style="left:130.5px;top:458.6px;line-height:12px;">0.08</div>
<div class="xt" style="left:146.05px;top:458.6px;line-height:12px;">0.09</div>
<div class="xt" style="left:161.59px;top:458.6px;line-height:12px;">0.1</div>
<div class="xt" style="left:177.14px;top:458.6px;line-height:12px;">0.11</div>
<div class="xt" style="left:192.69px;top:458.6px;line-height:12px;">0.12</div>
<div class="xt" style="left:208.23px;top:458.6px;line-height:12px;">0.13</div>
<div class="xt" style="left:223.78px;top:458.6px;line-height:12px;">0.14</div>
<div class="xt" style="left:239.33px;top:458.6px;line-height:12px;">0.15</div>
<div class="xt" style="left:254.87px;top:458.6px;line-height:12px;">0.16</div>
<div class="xt" style="left:270.42px;top:458.6px;line-height:12px;">0.17</div>
<div class="xt" style="left:285.97px;top:458.6px;line-height:12px;">0.18</div>
<div class="xt" style="left:301.51px;top:458.6px;line-height:12px;">0.19</div>
<div class="xt" style="left:317.06px;top:458.6px;line-height:12px;">0.2</div>
<div class="xt" style="left:332.61px;top:458.6px;line-height:12px;">0.21</div>
<div class="xt" style="left:348.15px;top:458.6px;line-height:12px;">0.22</div>
<div class="xt" style="left:363.7px;top:458.6px;line-height:12px;">0.23</div>
<div class="xt" style="left:379.25px;top:458.6px;line-height:12px;">0.24</div>
<div class="xt" style="left:394.79px;top:458.6px;line-height:12px;">0.25</div>
<div class="xt" style="left:410.34px;top:458.6px;line-height:12px;">0.26</div>
<div class="xt" style="left:425.89px;top:458.6px;line-height:12px;">0.27</div>
<div class="xt" style="left:441.43px;top:458.6px;line-height:12px;">0.28</div>
<div class="xt" style="left:456.98px;top:458.6px;line-height:12px;">0.29</div>
<div class="xt" style="left:472.53px;top:458.6px;line-height:12px;">0.3</div>
<div class="lab" style="left:181.8px;top:483.9px;width:200px;line-height:14px;">KernelScale</div>
<svg class="a" style="left:518.1px;top:362.6px;overflow:visible" width="6.9" height="93.9" viewBox="0 0 6.9 93.9"><rect x="0" y="84.51" width="6.9" height="9.41" fill="#3e26a8"/><rect x="0" y="75.12" width="6.9" height="9.41" fill="#4747eb"/><rect x="0" y="65.73" width="6.9" height="9.41" fill="#3e6fff"/><rect x="0" y="56.34" width="6.9" height="9.41" fill="#2796eb"/><rect x="0" y="46.95" width="6.9" height="9.41" fill="#08b5d0"/><rect x="0" y="37.56" width="6.9" height="9.41" fill="#31c69f"/><rect x="0" y="28.17" width="6.9" height="9.41" fill="#81cc59"/><rect x="0" y="18.78" width="6.9" height="9.41" fill="#dcbd29"/><rect x="0" y="9.39" width="6.9" height="9.41" fill="#fccf30"/><rect x="0" y="0" width="6.9" height="9.41" fill="#f9fb15"/><rect x="0" y="0" width="6.9" height="93.9" stroke="rgba(40,40,40,0.5)" stroke-width="0.8" fill="none"/><path d="M5.4 71.89H6.9M5.4 49.42H6.9M5.4 26.96H6.9M5.4 4.49H6.9" stroke="rgba(40,40,40,0.5)" stroke-width="0.7"/></svg>
<div class="cbt" style="left:527.7px;top:429.49px;line-height:12px;">50</div>
<div class="cbt" style="left:527.7px;top:407.02px;line-height:12px;">100</div>
<div class="cbt" style="left:527.7px;top:384.56px;line-height:12px;">150</div>
<div class="cbt" style="left:527.7px;top:362.09px;line-height:12px;">200</div>
</div></body></html>
